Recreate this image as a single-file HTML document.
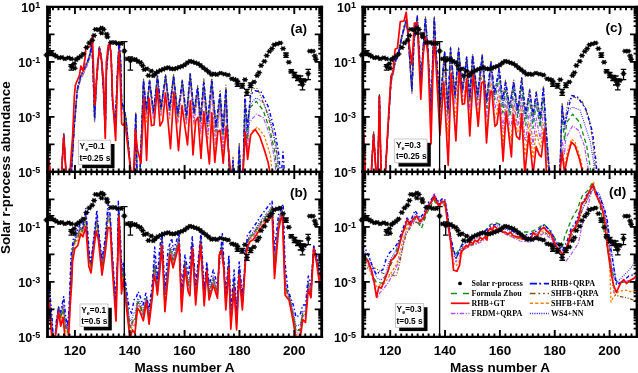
<!DOCTYPE html><html><head><meta charset="utf-8"><style>html,body{margin:0;padding:0;background:#fff;overflow:hidden}svg{display:block}</style></head><body><svg width="638" height="373" viewBox="0 0 638 373">
<style>.tl{font:bold 12.5px "Liberation Sans",Arial,sans-serif}.sup{font-size:9px}.lg{font:bold 8px "Liberation Serif","Times New Roman",serif}.bx{font:bold 8.3px "Liberation Sans",Arial,sans-serif}.pl{font:bold 13px "Liberation Sans",Arial,sans-serif}</style>
<rect width="638" height="373" fill="#fff"/>
<defs><clipPath id="ca"><rect x="47.5" y="6.9" width="274.2" height="165"/></clipPath><clipPath id="cb"><rect x="47.5" y="171.9" width="274.2" height="165"/></clipPath><clipPath id="cc"><rect x="362.8" y="6.9" width="274.2" height="165"/></clipPath><clipPath id="cd"><rect x="362.8" y="171.9" width="274.2" height="165"/></clipPath></defs>
<g clip-path="url(#ca)"><path d="M47.5 152.3L50.5 173.9L50.6 174.0L61.5 174.0L63.8 136.3L66.1 174.0L69.8 174.0L71.3 170.0L72.7 149.9L74.3 123.7L74.4 122.2L75.4 110.6L77.3 91.5L79.5 83.5L80.6 78.6L80.9 77.7L83.0 75.2L84.0 72.3L85.2 68.6L86.0 65.1L88.6 60.4L90.0 55.9L91.0 51.9L92.0 44.8L92.4 53.5L93.2 76.0L93.6 88.4L94.6 121.0L96.2 90.2L96.5 84.3L97.5 71.3L99.4 49.5L101.5 62.6L103.5 92.1L105.3 138.1L106.3 81.1L106.5 72.3L108.2 52.3L108.5 49.2L109.5 46.0L109.8 45.5L111.0 57.1L111.2 59.9L112.5 103.2L115.3 133.6L115.6 128.2L117.5 76.2L119.1 45.8L120.3 64.6L120.6 69.7L121.7 110.2L123.0 113.6L124.3 116.6L125.0 119.4L126.0 125.0L126.4 128.9L131.0 173.8L131.2 174.0L133.5 174.0L134.4 171.8L135.4 129.4L135.7 117.7L137.0 171.1L137.5 171.6L140.0 172.5L141.0 149.5L143.5 85.5L144.0 89.9L146.4 121.8L146.6 120.2L149.0 89.5L149.5 85.0L151.5 103.4L153.5 119.6L154.0 115.1L157.3 81.5L157.5 80.0L160.0 108.1L160.9 116.8L162.7 103.5L165.5 80.4L165.6 79.8L169.6 118.3L170.5 111.6L173.6 79.9L173.8 81.5L177.7 123.9L178.5 118.8L182.0 88.0L182.3 85.9L186.4 125.3L187.5 113.7L190.2 79.3L190.4 81.1L193.0 114.9L194.0 124.5L195.7 109.5L197.7 94.1L198.0 98.0L200.5 134.6L201.0 129.0L203.8 89.2L207.5 141.7L209.4 121.9L211.8 89.5L214.8 135.0L216.0 150.0L217.8 128.8L220.1 103.9L223.0 154.7L223.2 151.3L225.9 99.7L226.2 105.1L229.5 172.7L230.8 174.0L232.0 174.0L233.0 168.9L234.0 174.0L238.0 174.0L239.2 156.4L240.5 174.0L243.0 174.0L243.0 174.0L245.0 125.0L247.5 155.0L251.7 131.6L257.5 127.0L264.5 136.3L270.3 155.0L272.5 174.0L322.0 174.0" stroke="#ff8000" stroke-width="1.3" stroke-dasharray="2.5 1.8" fill="none" stroke-linejoin="round"/><path d="M47.5 151.5L50.5 174.0L50.6 174.0L61.5 174.0L63.8 135.5L66.1 174.0L69.8 174.0L71.3 174.0L72.7 152.9L74.3 128.8L74.4 127.5L75.4 115.5L77.3 92.8L79.5 84.1L80.6 79.8L80.9 79.1L83.0 74.8L84.0 72.8L85.2 70.0L86.0 68.2L88.6 62.4L90.0 56.7L91.0 52.8L92.0 45.5L92.4 56.6L93.2 78.8L93.6 91.4L94.6 123.0L96.2 89.9L96.5 83.8L97.5 71.6L99.4 48.5L101.5 61.8L103.5 93.8L105.3 136.0L106.3 84.1L106.5 73.8L108.2 52.5L108.5 48.8L109.5 45.5L109.8 44.5L111.0 56.7L111.2 58.8L112.5 103.8L115.3 131.0L115.6 123.2L117.5 73.8L119.1 43.5L120.3 59.7L120.6 63.8L121.7 105.8L123.0 109.8L124.3 113.8L125.0 117.3L126.0 122.3L126.4 126.5L131.0 174.0L131.2 174.0L133.5 174.0L134.4 174.0L135.4 128.6L135.7 115.0L137.0 174.0L137.5 174.0L140.0 174.0L141.0 147.7L143.5 81.9L144.0 87.8L146.4 116.0L146.6 113.8L149.0 87.4L149.5 81.9L151.5 99.6L153.5 117.1L154.0 112.3L157.3 79.9L157.5 78.1L160.0 105.1L160.9 114.3L162.7 100.7L165.5 78.7L165.6 78.0L169.6 115.4L170.5 108.4L173.6 78.5L173.8 80.2L177.7 121.7L178.5 116.7L182.0 86.9L182.3 85.0L186.4 123.7L187.5 112.6L190.2 78.9L190.4 80.6L193.0 114.3L194.0 122.9L195.7 108.1L197.7 93.8L198.0 97.4L200.5 132.4L201.0 127.7L203.8 88.6L207.5 137.9L209.4 120.9L211.8 88.4L214.8 132.2L216.0 144.9L217.8 125.0L220.1 102.8L223.0 149.9L223.2 147.1L225.9 98.8L226.2 104.0L229.5 172.0L230.8 174.0L232.0 174.0L233.0 166.6L234.0 174.0L238.0 174.0L239.2 154.9L240.5 174.0L243.0 174.0L243.0 174.0L245.0 115.0L247.5 150.0L249.3 122.3L256.3 114.1L263.3 117.6L270.3 136.3L275.0 162.0L276.0 174.0L322.0 174.0" stroke="#b050ff" stroke-width="1.2" stroke-dasharray="4 1.5 1 1.5" fill="none" stroke-linejoin="round"/><path d="M47.5 150.3L50.5 174.0L50.6 174.0L61.5 174.0L63.8 134.3L66.1 174.0L69.8 174.0L71.3 174.0L72.7 151.7L74.3 126.2L74.4 124.9L75.4 112.9L77.3 90.2L79.5 81.5L80.6 77.2L80.9 76.5L83.0 72.2L84.0 70.2L85.2 67.4L86.0 65.6L88.6 59.8L90.0 54.1L91.0 50.1L92.0 44.3L92.4 54.9L93.2 76.2L93.6 88.4L94.6 119.0L96.2 87.1L96.5 81.2L97.5 69.5L99.4 47.3L101.5 59.1L103.5 91.2L105.3 132.0L106.3 81.3L106.5 71.2L108.2 49.9L108.5 46.1L109.5 44.0L109.8 43.3L111.0 54.3L111.2 56.1L112.5 101.2L115.3 127.0L115.6 119.4L117.5 71.2L119.1 42.3L120.3 57.4L120.6 61.1L121.7 103.2L123.0 107.2L124.3 111.2L125.0 114.7L126.0 119.8L126.4 124.1L131.0 174.0L131.2 174.0L133.5 174.0L134.4 174.0L135.4 127.7L135.7 113.8L137.0 174.0L137.5 174.0L140.0 174.0L141.0 147.3L143.5 80.7L144.0 86.1L146.4 112.0L146.6 110.0L149.0 85.7L149.5 80.7L151.5 96.8L153.5 113.0L154.0 108.5L157.3 78.4L157.5 76.6L160.0 101.2L160.9 110.0L162.7 97.0L165.5 76.7L165.6 76.0L169.6 110.0L170.5 102.3L173.6 76.0L173.8 78.0L177.7 116.0L178.5 110.0L182.0 83.6L182.3 81.3L186.4 118.0L187.5 105.4L190.2 74.3L190.4 76.4L193.0 104.0L194.0 114.6L195.7 102.3L197.7 87.9L198.0 91.5L200.5 121.7L201.0 115.7L203.8 82.0L207.5 126.8L209.4 106.5L211.8 80.8L214.8 117.4L216.0 132.0L217.8 115.5L220.1 94.4L223.0 136.0L223.2 132.8L225.9 89.7L226.2 96.7L229.5 174.0L230.8 174.0L232.0 174.0L233.0 161.7L234.0 174.0L238.0 174.0L239.2 147.9L240.5 174.0L243.0 174.0L243.0 174.0L245.0 105.0L247.5 140.0L249.3 108.3L256.3 101.3L263.3 110.6L270.3 131.6L275.0 152.6L277.0 174.0L322.0 174.0" stroke="#1a8c1a" stroke-width="1.35" stroke-dasharray="4.5 3" fill="none" stroke-linejoin="round"/><path d="M47.5 150.6L50.5 174.0L61.5 174.0L63.8 134.6L66.1 174.0L71.3 174.0L74.3 126.0L77.3 90.0L80.6 77.0L84.0 70.0L88.6 59.6L91.0 50.0L92.0 44.6L93.2 76.0L94.6 118.5L96.5 81.0L99.4 47.6L101.5 59.0L103.5 91.0L105.3 131.5L106.5 71.0L108.5 46.0L109.8 43.6L111.2 56.0L112.5 101.0L115.3 126.5L117.5 71.0L119.1 42.6L120.6 61.0L121.7 103.0L124.3 111.0L126.0 119.6L131.0 174.0L134.4 174.0L135.7 114.1L137.0 174.0L140.0 174.0L143.5 81.0L146.4 111.5L149.5 81.0L153.5 112.5L157.5 76.9L160.9 109.5L165.6 76.3L169.6 109.5L173.6 76.3L177.7 115.5L182.3 81.6L186.4 117.5L190.2 74.6L194.0 114.0L197.7 88.4L200.5 120.8L203.8 82.7L207.5 125.6L211.8 81.6L216.0 130.5L220.1 95.3L223.0 134.5L225.9 90.6L229.5 174.0L232.0 174.0L233.0 162.6L234.0 174.0L238.0 174.0L239.2 148.8L240.5 174.0L243.0 174.0L243.0 174.0L245.0 100.0L247.5 135.0L250.5 103.6L256.3 97.8L263.3 102.5L270.3 120.0L276.1 145.6L278.5 174.0L322.0 174.0" stroke="#3a3aff" stroke-width="1.2" stroke-dasharray="1 1.2" fill="none" stroke-linejoin="round"/><path d="M47.5 148.8L50.5 174.0L61.5 174.0L63.8 132.8L66.1 174.0L71.3 174.0L74.3 124.4L77.3 88.4L80.6 75.4L84.0 68.4L88.6 58.0L91.0 48.4L92.0 42.8L93.2 74.4L94.6 117.0L96.5 79.4L99.4 45.8L101.5 57.4L103.5 89.4L105.3 130.0L106.5 69.4L108.5 44.4L109.8 41.8L111.2 54.4L112.5 99.4L115.3 125.0L117.5 69.4L119.1 40.8L120.6 59.4L121.7 101.4L124.3 109.4L126.0 118.0L131.0 174.0L134.4 174.0L135.7 112.3L137.0 174.0L140.0 174.0L143.5 79.2L146.4 110.0L149.5 79.2L153.5 111.0L157.5 75.1L160.9 108.0L165.6 74.5L169.6 108.0L173.6 74.5L177.7 114.0L182.3 79.8L186.4 116.0L190.2 72.8L194.0 112.0L197.7 85.5L200.5 118.0L203.8 78.9L207.5 122.0L211.8 76.7L216.0 126.0L220.1 89.9L223.0 130.0L225.9 85.2L229.5 174.0L232.0 174.0L233.0 157.2L234.0 174.0L238.0 174.0L239.2 143.4L240.5 174.0L243.0 174.0L243.0 174.0L244.7 99.0L247.3 125.0L251.7 88.5L257.5 88.5L265.6 108.3L272.6 131.6L277.3 155.0L279.0 174.0L322.0 174.0" stroke="#7b4f1e" stroke-width="1.2" stroke-dasharray="3.5 1.6 1.1 1.6 1.1 1.6" fill="none" stroke-linejoin="round"/><path d="M47.5 150.0L50.5 174.0L61.5 174.0L63.8 134.0L66.1 174.0L71.3 174.0L74.3 125.0L77.3 89.0L80.6 76.0L84.0 69.0L88.6 58.6L91.0 49.0L92.0 44.0L93.2 75.0L94.6 117.0L96.5 80.0L99.4 47.0L101.5 58.0L103.5 90.0L105.3 130.0L106.5 70.0L108.5 45.0L109.8 43.0L111.2 55.0L112.5 100.0L115.3 125.0L117.5 70.0L119.1 42.0L120.6 60.0L121.7 102.0L124.3 110.0L126.0 118.6L131.0 174.0L134.4 174.0L135.7 113.5L137.0 174.0L140.0 174.0L143.5 80.4L146.4 110.0L149.5 80.4L153.5 111.0L157.5 76.3L160.9 108.0L165.6 75.7L169.6 108.0L173.6 75.7L177.7 114.0L182.3 81.0L186.4 116.0L190.2 74.0L194.0 112.0L197.7 87.4L200.5 118.0L203.8 81.4L207.5 122.0L211.8 80.0L216.0 126.0L220.1 93.5L223.0 130.0L225.9 88.8L229.5 174.0L232.0 174.0L233.0 160.8L234.0 174.0L238.0 174.0L239.2 147.0L240.5 174.0L243.0 174.0L243.0 174.0L245.0 96.0L247.5 128.0L250.5 94.3L255.2 90.8L261.0 92.0L268.0 106.0L275.0 131.6L278.5 152.6L280.5 174.0L281.5 174.0L283.0 152.0L284.5 174.0L322.0 174.0" stroke="#0000ff" stroke-width="1.45" stroke-dasharray="3.6 2.4 1.4 2.4" fill="none" stroke-linejoin="round"/><path d="M47.5 151.6L50.6 174.0L61.5 174.0L63.8 135.7L66.1 174.0L69.8 174.0L72.7 135.0L74.4 95.0L75.4 85.0L79.5 75.0L80.9 66.0L83.0 71.0L85.2 57.0L86.0 46.5L90.0 46.5L92.4 36.3L93.6 70.0L94.6 105.1L96.2 85.0L97.5 65.0L99.4 49.4L101.5 60.0L103.5 79.4L105.3 138.4L106.3 62.5L108.2 45.6L109.5 43.8L111.0 53.1L112.5 95.0L115.6 140.4L117.5 80.0L119.1 51.3L120.3 80.0L121.7 123.9L123.0 125.2L125.0 122.5L126.4 135.0L131.2 174.0L133.5 174.0L135.4 129.8L137.5 150.0L141.0 163.2L144.0 98.0L146.6 160.4L149.0 98.0L151.5 125.7L154.0 125.0L157.3 88.0L160.0 126.0L162.7 121.0L165.5 93.0L170.5 148.6L173.8 92.0L178.5 150.7L182.0 105.7L187.5 145.0L190.4 100.8L193.0 155.0L195.7 121.1L198.0 117.3L201.0 158.5L203.8 111.6L209.4 163.9L211.8 112.9L214.8 162.3L217.8 131.8L220.1 130.3L223.2 163.1L226.2 126.5L230.8 174.0L243.0 174.0L245.3 131.8L247.6 159.3L250.6 134.8L255.2 129.5L259.8 136.4L264.4 150.1L268.0 162.0L270.3 174.0L322.0 174.0" stroke="#ff0000" stroke-width="1.7" fill="none" stroke-linejoin="round"/></g><path d="M51.6 50.6V55.6M48.8 50.6h5.6M48.8 55.6h5.6M71.3 64.6V70.2M68.5 64.6h5.6M68.5 70.2h5.6M130.4 57.0V70.2M127.6 57.0h5.6M127.6 70.2h5.6M237.5 81.5V86.3M234.7 81.5h5.6M234.7 86.3h5.6M242.2 83.5V88.1M239.4 83.5h5.6M239.4 88.1h5.6M246.9 89.4V95.4M244.1 89.4h5.6M244.1 95.4h5.6M250.6 82.9V87.7M247.8 82.9h5.6M247.8 87.7h5.6M286.0 53.0V57.4M283.2 53.0h5.6M283.2 57.4h5.6M291.3 69.7V72.9M288.5 69.7h5.6M288.5 72.9h5.6M294.5 72.5V77.5M291.7 72.5h5.6M291.7 77.5h5.6M297.8 75.5V80.5M295.0 75.5h5.6M295.0 80.5h5.6M300.5 76.0V85.0M297.7 76.0h5.6M297.7 85.0h5.6M302.5 78.9V89.9M299.7 78.9h5.6M299.7 89.9h5.6M308.2 69.4V79.7M305.4 69.4h5.6M305.4 79.7h5.6M124.3 41.6V172.0M121.1 41.6h6.4" stroke="#000" stroke-width="1.3" fill="none"/><path d="M49.50 55.00L48.02 54.28L48.00 52.87L46.50 53.56L45.00 52.87L44.98 54.28L43.50 55.00L44.98 55.72L45.00 57.13L46.50 56.44L48.00 57.13L48.02 55.72ZM52.00 52.70L50.52 51.98L50.50 50.57L49.00 51.27L47.50 50.57L47.48 51.98L46.00 52.70L47.48 53.42L47.50 54.83L49.00 54.14L50.50 54.83L50.52 53.42ZM54.60 53.10L53.12 52.38L53.10 50.97L51.60 51.66L50.10 50.97L50.08 52.38L48.60 53.10L50.08 53.82L50.10 55.23L51.60 54.54L53.10 55.23L53.12 53.82ZM57.40 55.00L55.92 54.28L55.90 52.87L54.40 53.56L52.90 52.87L52.88 54.28L51.40 55.00L52.88 55.72L52.90 57.13L54.40 56.44L55.90 57.13L55.92 55.72ZM59.30 56.40L57.82 55.68L57.80 54.27L56.30 54.96L54.80 54.27L54.78 55.68L53.30 56.40L54.78 57.12L54.80 58.53L56.30 57.84L57.80 58.53L57.82 57.12ZM62.10 57.80L60.62 57.08L60.60 55.67L59.10 56.36L57.60 55.67L57.58 57.08L56.10 57.80L57.58 58.52L57.60 59.93L59.10 59.23L60.60 59.93L60.62 58.52ZM64.90 57.40L63.42 56.68L63.40 55.27L61.90 55.96L60.40 55.27L60.38 56.68L58.90 57.40L60.38 58.12L60.40 59.53L61.90 58.84L63.40 59.53L63.42 58.12ZM67.80 58.80L66.32 58.08L66.30 56.67L64.80 57.36L63.30 56.67L63.28 58.08L61.80 58.80L63.28 59.52L63.30 60.93L64.80 60.23L66.30 60.93L66.32 59.52ZM71.50 57.80L70.02 57.08L70.00 55.67L68.50 56.36L67.00 55.67L66.98 57.08L65.50 57.80L66.98 58.52L67.00 59.93L68.50 59.23L70.00 59.93L70.02 58.52ZM74.30 58.80L72.82 58.08L72.80 56.67L71.30 57.36L69.80 56.67L69.78 58.08L68.30 58.80L69.78 59.52L69.80 60.93L71.30 60.23L72.80 60.93L72.82 59.52ZM74.30 66.30L72.82 65.58L72.80 64.17L71.30 64.86L69.80 64.17L69.78 65.58L68.30 66.30L69.78 67.02L69.80 68.43L71.30 67.73L72.80 68.43L72.82 67.02ZM77.10 63.80L75.62 63.08L75.60 61.67L74.10 62.36L72.60 61.67L72.58 63.08L71.10 63.80L72.58 64.52L72.60 65.93L74.10 65.23L75.60 65.93L75.62 64.52ZM77.60 68.20L76.12 67.48L76.10 66.07L74.60 66.77L73.10 66.07L73.08 67.48L71.60 68.20L73.08 68.92L73.10 70.33L74.60 69.64L76.10 70.33L76.12 68.92ZM79.20 59.70L77.72 58.98L77.70 57.57L76.20 58.27L74.70 57.57L74.68 58.98L73.20 59.70L74.68 60.42L74.70 61.83L76.20 61.14L77.70 61.83L77.72 60.42ZM81.40 57.80L79.92 57.08L79.90 55.67L78.40 56.36L76.90 55.67L76.88 57.08L75.40 57.80L76.88 58.52L76.90 59.93L78.40 59.23L79.90 59.93L79.92 58.52ZM83.70 56.40L82.22 55.68L82.20 54.27L80.70 54.96L79.20 54.27L79.18 55.68L77.70 56.40L79.18 57.12L79.20 58.53L80.70 57.84L82.20 58.53L82.22 57.12ZM86.20 54.00L84.72 53.28L84.70 51.87L83.20 52.56L81.70 51.87L81.68 53.28L80.20 54.00L81.68 54.72L81.70 56.13L83.20 55.44L84.70 56.13L84.72 54.72ZM89.50 47.50L88.02 46.78L88.00 45.37L86.50 46.06L85.00 45.37L84.98 46.78L83.50 47.50L84.98 48.22L85.00 49.63L86.50 48.94L88.00 49.63L88.02 48.22ZM92.30 43.00L90.82 42.28L90.80 40.87L89.30 41.56L87.80 40.87L87.78 42.28L86.30 43.00L87.78 43.72L87.80 45.13L89.30 44.44L90.80 45.13L90.82 43.72ZM95.20 40.20L93.72 39.48L93.70 38.07L92.20 38.77L90.70 38.07L90.68 39.48L89.20 40.20L90.68 40.92L90.70 42.33L92.20 41.64L93.70 42.33L93.72 40.92ZM97.10 35.50L95.62 34.78L95.60 33.37L94.10 34.06L92.60 33.37L92.58 34.78L91.10 35.50L92.58 36.22L92.60 37.63L94.10 36.94L95.60 37.63L95.62 36.22ZM98.50 29.40L97.02 28.68L97.00 27.27L95.50 27.96L94.00 27.27L93.98 28.68L92.50 29.40L93.98 30.12L94.00 31.53L95.50 30.83L97.00 31.53L97.02 30.12ZM101.80 29.80L100.32 29.08L100.30 27.67L98.80 28.37L97.30 27.67L97.28 29.08L95.80 29.80L97.28 30.52L97.30 31.93L98.80 31.23L100.30 31.93L100.32 30.52ZM104.60 28.00L103.12 27.28L103.10 25.87L101.60 26.57L100.10 25.87L100.08 27.28L98.60 28.00L100.08 28.72L100.10 30.13L101.60 29.43L103.10 30.13L103.12 28.72ZM106.50 29.40L105.02 28.68L105.00 27.27L103.50 27.96L102.00 27.27L101.98 28.68L100.50 29.40L101.98 30.12L102.00 31.53L103.50 30.83L105.00 31.53L105.02 30.12ZM104.60 33.10L103.12 32.38L103.10 30.97L101.60 31.67L100.10 30.97L100.08 32.38L98.60 33.10L100.08 33.82L100.10 35.23L101.60 34.54L103.10 35.23L103.12 33.82ZM109.70 34.10L108.22 33.38L108.20 31.97L106.70 32.66L105.20 31.97L105.18 33.38L103.70 34.10L105.18 34.82L105.20 36.23L106.70 35.54L108.20 36.23L108.22 34.82ZM110.40 37.00L108.92 36.28L108.90 34.87L107.40 35.56L105.90 34.87L105.88 36.28L104.40 37.00L105.88 37.72L105.90 39.13L107.40 38.44L108.90 39.13L108.92 37.72ZM114.00 42.50L112.52 41.78L112.50 40.37L111.00 41.06L109.50 40.37L109.48 41.78L108.00 42.50L109.48 43.22L109.50 44.63L111.00 43.94L112.50 44.63L112.52 43.22ZM117.70 42.50L116.22 41.78L116.20 40.37L114.70 41.06L113.20 40.37L113.18 41.78L111.70 42.50L113.18 43.22L113.20 44.63L114.70 43.94L116.20 44.63L116.22 43.22ZM120.50 43.50L119.02 42.78L119.00 41.37L117.50 42.06L116.00 41.37L115.98 42.78L114.50 43.50L115.98 44.22L116.00 45.63L117.50 44.94L119.00 45.63L119.02 44.22ZM124.30 43.50L122.82 42.78L122.80 41.37L121.30 42.06L119.80 41.37L119.78 42.78L118.30 43.50L119.78 44.22L119.80 45.63L121.30 44.94L122.80 45.63L122.82 44.22ZM127.30 51.00L125.82 50.28L125.80 48.87L124.30 49.56L122.80 48.87L122.78 50.28L121.30 51.00L122.78 51.72L122.80 53.13L124.30 52.44L125.80 53.13L125.82 51.72ZM130.10 58.90L128.62 58.18L128.60 56.77L127.10 57.46L125.60 56.77L125.58 58.18L124.10 58.90L125.58 59.62L125.60 61.03L127.10 60.34L128.60 61.03L128.62 59.62ZM133.40 60.30L131.92 59.58L131.90 58.17L130.40 58.86L128.90 58.17L128.88 59.58L127.40 60.30L128.88 61.02L128.90 62.43L130.40 61.73L131.90 62.43L131.92 61.02ZM136.00 59.60L134.52 58.88L134.50 57.47L133.00 58.16L131.50 57.47L131.48 58.88L130.00 59.60L131.48 60.32L131.50 61.73L133.00 61.04L134.50 61.73L134.52 60.32ZM138.50 59.50L137.02 58.78L137.00 57.37L135.50 58.06L134.00 57.37L133.98 58.78L132.50 59.50L133.98 60.22L134.00 61.63L135.50 60.94L137.00 61.63L137.02 60.22ZM141.00 61.50L139.52 60.78L139.50 59.37L138.00 60.06L136.50 59.37L136.48 60.78L135.00 61.50L136.48 62.22L136.50 63.63L138.00 62.94L139.50 63.63L139.52 62.22ZM143.50 62.50L142.02 61.78L142.00 60.37L140.50 61.06L139.00 60.37L138.98 61.78L137.50 62.50L138.98 63.22L139.00 64.63L140.50 63.94L142.00 64.63L142.02 63.22ZM145.50 65.50L144.02 64.78L144.00 63.37L142.50 64.06L141.00 63.37L140.98 64.78L139.50 65.50L140.98 66.22L141.00 67.63L142.50 66.94L144.00 67.63L144.02 66.22ZM147.20 69.50L145.72 68.78L145.70 67.37L144.20 68.06L142.70 67.37L142.68 68.78L141.20 69.50L142.68 70.22L142.70 71.63L144.20 70.94L145.70 71.63L145.72 70.22ZM149.80 68.80L148.32 68.08L148.30 66.67L146.80 67.36L145.30 66.67L145.28 68.08L143.80 68.80L145.28 69.52L145.30 70.93L146.80 70.23L148.30 70.93L148.32 69.52ZM151.50 75.50L150.02 74.78L150.00 73.37L148.50 74.06L147.00 73.37L146.98 74.78L145.50 75.50L146.98 76.22L147.00 77.63L148.50 76.94L150.00 77.63L150.02 76.22ZM154.30 71.00L152.82 70.28L152.80 68.87L151.30 69.56L149.80 68.87L149.78 70.28L148.30 71.00L149.78 71.72L149.80 73.13L151.30 72.44L152.80 73.13L152.82 71.72ZM156.30 75.80L154.82 75.08L154.80 73.67L153.30 74.36L151.80 73.67L151.78 75.08L150.30 75.80L151.78 76.52L151.80 77.93L153.30 77.23L154.80 77.93L154.82 76.52ZM158.50 73.50L157.02 72.78L157.00 71.37L155.50 72.06L154.00 71.37L153.98 72.78L152.50 73.50L153.98 74.22L154.00 75.63L155.50 74.94L157.00 75.63L157.02 74.22ZM160.80 71.60L159.32 70.88L159.30 69.47L157.80 70.16L156.30 69.47L156.28 70.88L154.80 71.60L156.28 72.32L156.30 73.73L157.80 73.03L159.30 73.73L159.32 72.32ZM163.50 70.40L162.02 69.68L162.00 68.27L160.50 68.97L159.00 68.27L158.98 69.68L157.50 70.40L158.98 71.12L159.00 72.53L160.50 71.84L162.00 72.53L162.02 71.12ZM166.20 69.30L164.72 68.58L164.70 67.17L163.20 67.86L161.70 67.17L161.68 68.58L160.20 69.30L161.68 70.02L161.70 71.43L163.20 70.73L164.70 71.43L164.72 70.02ZM168.80 68.20L167.32 67.48L167.30 66.07L165.80 66.77L164.30 66.07L164.28 67.48L162.80 68.20L164.28 68.92L164.30 70.33L165.80 69.64L167.30 70.33L167.32 68.92ZM171.40 67.60L169.92 66.88L169.90 65.47L168.40 66.16L166.90 65.47L166.88 66.88L165.40 67.60L166.88 68.32L166.90 69.73L168.40 69.03L169.90 69.73L169.92 68.32ZM174.00 68.80L172.52 68.08L172.50 66.67L171.00 67.36L169.50 66.67L169.48 68.08L168.00 68.80L169.48 69.52L169.50 70.93L171.00 70.23L172.50 70.93L172.52 69.52ZM176.80 69.00L175.32 68.28L175.30 66.87L173.80 67.56L172.30 66.87L172.28 68.28L170.80 69.00L172.28 69.72L172.30 71.13L173.80 70.44L175.30 71.13L175.32 69.72ZM179.50 68.30L178.02 67.58L178.00 66.17L176.50 66.86L175.00 66.17L174.98 67.58L173.50 68.30L174.98 69.02L175.00 70.43L176.50 69.73L178.00 70.43L178.02 69.02ZM182.20 67.20L180.72 66.48L180.70 65.07L179.20 65.77L177.70 65.07L177.68 66.48L176.20 67.20L177.68 67.92L177.70 69.33L179.20 68.64L180.70 69.33L180.72 67.92ZM184.90 66.30L183.42 65.58L183.40 64.17L181.90 64.86L180.40 64.17L180.38 65.58L178.90 66.30L180.38 67.02L180.40 68.43L181.90 67.73L183.40 68.43L183.42 67.02ZM187.60 65.00L186.12 64.28L186.10 62.87L184.60 63.56L183.10 62.87L183.08 64.28L181.60 65.00L183.08 65.72L183.10 67.13L184.60 66.44L186.10 67.13L186.12 65.72ZM190.30 62.80L188.82 62.08L188.80 60.67L187.30 61.36L185.80 60.67L185.78 62.08L184.30 62.80L185.78 63.52L185.80 64.93L187.30 64.23L188.80 64.93L188.82 63.52ZM192.90 61.20L191.42 60.48L191.40 59.07L189.90 59.77L188.40 59.07L188.38 60.48L186.90 61.20L188.38 61.92L188.40 63.33L189.90 62.64L191.40 63.33L191.42 61.92ZM195.50 61.80L194.02 61.08L194.00 59.67L192.50 60.36L191.00 59.67L190.98 61.08L189.50 61.80L190.98 62.52L191.00 63.93L192.50 63.23L194.00 63.93L194.02 62.52ZM198.20 62.80L196.72 62.08L196.70 60.67L195.20 61.36L193.70 60.67L193.68 62.08L192.20 62.80L193.68 63.52L193.70 64.93L195.20 64.23L196.70 64.93L196.72 63.52ZM200.90 63.60L199.42 62.88L199.40 61.47L197.90 62.16L196.40 61.47L196.38 62.88L194.90 63.60L196.38 64.32L196.40 65.73L197.90 65.03L199.40 65.73L199.42 64.32ZM203.60 65.50L202.12 64.78L202.10 63.37L200.60 64.06L199.10 63.37L199.08 64.78L197.60 65.50L199.08 66.22L199.10 67.63L200.60 66.94L202.10 67.63L202.12 66.22ZM206.30 67.80L204.82 67.08L204.80 65.67L203.30 66.36L201.80 65.67L201.78 67.08L200.30 67.80L201.78 68.52L201.80 69.93L203.30 69.23L204.80 69.93L204.82 68.52ZM209.00 69.80L207.52 69.08L207.50 67.67L206.00 68.36L204.50 67.67L204.48 69.08L203.00 69.80L204.48 70.52L204.50 71.93L206.00 71.23L207.50 71.93L207.52 70.52ZM211.70 72.00L210.22 71.28L210.20 69.87L208.70 70.56L207.20 69.87L207.18 71.28L205.70 72.00L207.18 72.72L207.20 74.13L208.70 73.44L210.20 74.13L210.22 72.72ZM214.40 74.30L212.92 73.58L212.90 72.17L211.40 72.86L209.90 72.17L209.88 73.58L208.40 74.30L209.88 75.02L209.90 76.43L211.40 75.73L212.90 76.43L212.92 75.02ZM217.10 74.00L215.62 73.28L215.60 71.87L214.10 72.56L212.60 71.87L212.58 73.28L211.10 74.00L212.58 74.72L212.60 76.13L214.10 75.44L215.60 76.13L215.62 74.72ZM219.90 74.50L218.42 73.78L218.40 72.37L216.90 73.06L215.40 72.37L215.38 73.78L213.90 74.50L215.38 75.22L215.40 76.63L216.90 75.94L218.40 76.63L218.42 75.22ZM223.60 73.10L222.12 72.38L222.10 70.97L220.60 71.66L219.10 70.97L219.08 72.38L217.60 73.10L219.08 73.82L219.10 75.23L220.60 74.53L222.10 75.23L222.12 73.82ZM227.40 74.10L225.92 73.38L225.90 71.97L224.40 72.66L222.90 71.97L222.88 73.38L221.40 74.10L222.88 74.82L222.90 76.23L224.40 75.53L225.90 76.23L225.92 74.82ZM231.10 75.00L229.62 74.28L229.60 72.87L228.10 73.56L226.60 72.87L226.58 74.28L225.10 75.00L226.58 75.72L226.60 77.13L228.10 76.44L229.60 77.13L229.62 75.72ZM234.90 78.80L233.42 78.08L233.40 76.67L231.90 77.36L230.40 76.67L230.38 78.08L228.90 78.80L230.38 79.52L230.40 80.93L231.90 80.23L233.40 80.93L233.42 79.52ZM237.50 79.50L236.02 78.78L236.00 77.37L234.50 78.06L233.00 77.37L232.98 78.78L231.50 79.50L232.98 80.22L233.00 81.63L234.50 80.94L236.00 81.63L236.02 80.22ZM239.60 80.20L238.12 79.48L238.10 78.07L236.60 78.77L235.10 78.07L235.08 79.48L233.60 80.20L235.08 80.92L235.10 82.33L236.60 81.64L238.10 82.33L238.12 80.92ZM240.50 83.90L239.02 83.18L239.00 81.77L237.50 82.47L236.00 81.77L235.98 83.18L234.50 83.90L235.98 84.62L236.00 86.03L237.50 85.34L239.00 86.03L239.02 84.62ZM245.20 85.80L243.72 85.08L243.70 83.67L242.20 84.36L240.70 83.67L240.68 85.08L239.20 85.80L240.68 86.52L240.70 87.93L242.20 87.23L243.70 87.93L243.72 86.52ZM248.00 79.70L246.52 78.98L246.50 77.57L245.00 78.27L243.50 77.57L243.48 78.98L242.00 79.70L243.48 80.42L243.50 81.83L245.00 81.14L246.50 81.83L246.52 80.42ZM249.90 92.40L248.42 91.68L248.40 90.27L246.90 90.97L245.40 90.27L245.38 91.68L243.90 92.40L245.38 93.12L245.40 94.53L246.90 93.84L248.40 94.53L248.42 93.12ZM253.60 85.30L252.12 84.58L252.10 83.17L250.60 83.86L249.10 83.17L249.08 84.58L247.60 85.30L249.08 86.02L249.10 87.43L250.60 86.73L252.10 87.43L252.12 86.02ZM257.00 82.00L255.52 81.28L255.50 79.87L254.00 80.56L252.50 79.87L252.48 81.28L251.00 82.00L252.48 82.72L252.50 84.13L254.00 83.44L255.50 84.13L255.52 82.72ZM260.20 75.50L258.72 74.78L258.70 73.37L257.20 74.06L255.70 73.37L255.68 74.78L254.20 75.50L255.68 76.22L255.70 77.63L257.20 76.94L258.70 77.63L258.72 76.22ZM262.10 72.60L260.62 71.88L260.60 70.47L259.10 71.16L257.60 70.47L257.58 71.88L256.10 72.60L257.58 73.32L257.60 74.73L259.10 74.03L260.60 74.73L260.62 73.32ZM264.10 65.50L262.62 64.78L262.60 63.37L261.10 64.06L259.60 63.37L259.58 64.78L258.10 65.50L259.58 66.22L259.60 67.63L261.10 66.94L262.60 67.63L262.62 66.22ZM267.40 61.30L265.92 60.58L265.90 59.17L264.40 59.86L262.90 59.17L262.88 60.58L261.40 61.30L262.88 62.02L262.90 63.43L264.40 62.73L265.90 63.43L265.92 62.02ZM269.70 55.60L268.22 54.88L268.20 53.47L266.70 54.16L265.20 53.47L265.18 54.88L263.70 55.60L265.18 56.32L265.20 57.73L266.70 57.04L268.20 57.73L268.22 56.32ZM272.50 51.40L271.02 50.68L271.00 49.27L269.50 49.96L268.00 49.27L267.98 50.68L266.50 51.40L267.98 52.12L268.00 53.53L269.50 52.84L271.00 53.53L271.02 52.12ZM274.90 48.60L273.42 47.88L273.40 46.47L271.90 47.16L270.40 46.47L270.38 47.88L268.90 48.60L270.38 49.32L270.40 50.73L271.90 50.04L273.40 50.73L273.42 49.32ZM277.20 44.80L275.72 44.08L275.70 42.67L274.20 43.36L272.70 42.67L272.68 44.08L271.20 44.80L272.68 45.52L272.70 46.93L274.20 46.23L275.70 46.93L275.72 45.52ZM280.00 43.90L278.52 43.18L278.50 41.77L277.00 42.46L275.50 41.77L275.48 43.18L274.00 43.90L275.48 44.62L275.50 46.03L277.00 45.34L278.50 46.03L278.52 44.62ZM283.30 43.00L281.82 42.28L281.80 40.87L280.30 41.56L278.80 40.87L278.78 42.28L277.30 43.00L278.78 43.72L278.80 45.13L280.30 44.44L281.80 45.13L281.82 43.72ZM286.10 48.60L284.62 47.88L284.60 46.47L283.10 47.16L281.60 46.47L281.58 47.88L280.10 48.60L281.58 49.32L281.60 50.73L283.10 50.04L284.60 50.73L284.62 49.32ZM289.00 55.20L287.52 54.48L287.50 53.07L286.00 53.77L284.50 53.07L284.48 54.48L283.00 55.20L284.48 55.92L284.50 57.33L286.00 56.64L287.50 57.33L287.52 55.92ZM291.80 62.20L290.32 61.48L290.30 60.07L288.80 60.77L287.30 60.07L287.28 61.48L285.80 62.20L287.28 62.92L287.30 64.33L288.80 63.64L290.30 64.33L290.32 62.92ZM294.30 71.30L292.82 70.58L292.80 69.17L291.30 69.86L289.80 69.17L289.78 70.58L288.30 71.30L289.78 72.02L289.80 73.43L291.30 72.73L292.80 73.43L292.82 72.02ZM297.50 75.00L296.02 74.28L296.00 72.87L294.50 73.56L293.00 72.87L292.98 74.28L291.50 75.00L292.98 75.72L293.00 77.13L294.50 76.44L296.00 77.13L296.02 75.72ZM300.80 78.00L299.32 77.28L299.30 75.87L297.80 76.56L296.30 75.87L296.28 77.28L294.80 78.00L296.28 78.72L296.30 80.13L297.80 79.44L299.30 80.13L299.32 78.72ZM303.50 80.50L302.02 79.78L302.00 78.37L300.50 79.06L299.00 78.37L298.98 79.78L297.50 80.50L298.98 81.22L299.00 82.63L300.50 81.94L302.00 82.63L302.02 81.22ZM305.50 84.40L304.02 83.68L304.00 82.27L302.50 82.97L301.00 82.27L300.98 83.68L299.50 84.40L300.98 85.12L301.00 86.53L302.50 85.84L304.00 86.53L304.02 85.12ZM307.60 80.50L306.12 79.78L306.10 78.37L304.60 79.06L303.10 78.37L303.08 79.78L301.60 80.50L303.08 81.22L303.10 82.63L304.60 81.94L306.10 82.63L306.12 81.22ZM311.20 73.60L309.72 72.88L309.70 71.47L308.20 72.16L306.70 71.47L306.68 72.88L305.20 73.60L306.68 74.32L306.70 75.73L308.20 75.03L309.70 75.73L309.72 74.32ZM312.80 51.10L311.32 50.38L311.30 48.97L309.80 49.66L308.30 48.97L308.28 50.38L306.80 51.10L308.28 51.82L308.30 53.23L309.80 52.54L311.30 53.23L311.32 51.82ZM316.00 51.10L314.52 50.38L314.50 48.97L313.00 49.66L311.50 48.97L311.48 50.38L310.00 51.10L311.48 51.82L311.50 53.23L313.00 52.54L314.50 53.23L314.52 51.82ZM317.80 55.90L316.32 55.18L316.30 53.77L314.80 54.46L313.30 53.77L313.28 55.18L311.80 55.90L313.28 56.62L313.30 58.03L314.80 57.34L316.30 58.03L316.32 56.62ZM318.80 59.20L317.32 58.48L317.30 57.07L315.80 57.77L314.30 57.07L314.28 58.48L312.80 59.20L314.28 59.92L314.30 61.33L315.80 60.64L317.30 61.33L317.32 59.92Z" fill="#000" stroke="#000" stroke-width="0.5" stroke-linejoin="round"/>
<g clip-path="url(#cb)"><path d="M47.5 300.8L49.0 297.0L49.5 302.2L51.0 319.9L51.9 331.2L52.2 332.3L53.2 338.0L55.0 338.0L56.3 326.7L57.1 321.3L58.5 309.2L60.5 320.0L60.7 320.7L63.0 311.2L63.7 315.0L65.2 329.9L65.5 330.8L67.4 334.2L68.5 330.8L69.0 322.5L70.3 294.6L71.1 280.0L71.8 271.3L72.5 255.9L73.3 251.0L74.8 243.9L77.0 240.7L77.7 239.8L79.9 232.4L80.7 230.4L82.5 232.8L82.9 232.5L85.8 220.1L88.8 259.3L89.5 263.4L91.0 268.6L93.2 249.9L93.5 247.4L96.1 225.7L96.9 225.8L98.4 235.4L98.5 236.5L102.0 269.2L105.0 249.1L108.0 219.9L110.2 222.5L112.4 263.9L115.5 308.7L116.0 310.8L117.5 265.2L118.3 228.1L119.0 214.8L120.5 255.2L121.5 284.3L121.7 284.6L123.3 273.2L126.4 301.4L127.5 310.9L129.2 325.7L130.0 332.0L131.6 328.4L132.5 325.0L134.0 325.7L135.0 327.0L136.6 313.2L137.5 305.1L138.3 305.7L140.0 308.3L140.8 310.5L143.0 316.7L143.3 317.2L145.8 303.3L146.6 299.9L149.1 320.7L152.4 293.6L154.1 271.2L154.7 271.8L155.8 277.5L157.4 291.8L159.5 269.4L159.9 265.5L162.0 242.4L164.9 307.4L168.0 272.4L170.1 251.8L171.6 256.7L173.1 263.8L173.5 262.8L179.0 241.5L181.6 307.4L184.9 265.0L185.0 265.5L188.2 287.9L188.5 288.7L189.9 289.6L192.3 245.8L195.7 301.0L200.6 242.0L201.0 247.2L204.2 302.4L206.8 268.4L209.1 296.8L213.3 281.8L217.5 295.3L219.3 255.2L221.5 248.5L222.3 252.7L223.8 266.8L225.8 306.8L228.9 264.9L230.8 325.2L234.1 284.6L236.6 325.9L239.2 272.1L242.4 306.8L245.9 253.3L247.4 245.5L248.1 242.9L250.3 238.7L253.3 236.9L254.0 235.8L257.0 231.0L261.8 224.1L262.1 223.6L266.2 218.9L269.2 216.5L272.1 209.6L274.5 273.2L278.5 226.8L281.0 215.9L282.4 213.5L283.2 233.2L285.0 286.6L285.1 289.3L287.8 296.4L289.2 298.5L293.3 318.8L296.0 334.7L300.1 334.4L302.8 316.5L305.5 318.8L308.3 286.6L311.0 294.9L313.7 247.3L316.5 260.2L319.2 278.7L322.0 268.2" stroke="#ff8000" stroke-width="1.3" stroke-dasharray="2.5 1.8" fill="none" stroke-linejoin="round"/><path d="M47.5 290.5L49.0 291.9L49.5 296.1L51.0 312.6L51.9 323.8L52.2 326.1L53.2 337.5L55.0 337.5L56.3 323.7L57.1 318.3L58.5 307.4L60.5 315.6L60.7 315.6L63.0 305.5L63.7 306.2L65.2 321.3L65.5 323.1L67.4 329.8L68.5 323.1L69.0 316.2L70.3 285.5L71.1 268.1L71.8 261.2L72.5 250.3L73.3 245.2L74.8 239.6L77.0 235.6L77.7 234.4L79.9 228.3L80.7 227.6L82.5 229.8L82.9 228.6L85.8 214.3L88.8 252.8L89.5 258.9L91.0 264.9L93.2 245.9L93.5 243.3L96.1 221.1L96.9 218.1L98.4 231.6L98.5 232.8L102.0 263.9L105.0 244.3L108.0 212.2L110.2 218.4L112.4 259.2L115.5 304.1L116.0 300.9L117.5 262.1L118.3 215.6L119.0 213.3L120.5 247.7L121.5 275.1L121.7 277.4L123.3 268.0L126.4 297.2L127.5 306.6L129.2 321.4L130.0 327.2L131.6 325.6L132.5 322.4L134.0 323.0L135.0 324.8L136.6 311.6L137.5 303.9L138.3 304.3L140.0 307.0L140.8 309.2L143.0 315.5L143.3 315.9L145.8 302.2L146.6 299.2L149.1 319.4L152.4 292.4L154.1 269.8L154.7 269.8L155.8 276.0L157.4 290.5L159.5 267.7L159.9 263.9L162.0 241.2L164.9 305.8L168.0 270.5L170.1 250.7L171.6 255.1L173.1 262.2L173.5 261.5L179.0 240.5L181.6 305.8L184.9 263.9L185.0 264.3L188.2 286.4L188.5 287.4L189.9 287.3L192.3 244.7L195.7 299.5L200.6 241.1L201.0 245.8L204.2 301.1L206.8 267.5L209.1 295.5L213.3 280.5L217.5 294.1L219.3 255.3L221.5 247.6L222.3 251.0L223.8 265.9L225.8 305.5L228.9 263.7L230.8 323.8L234.1 283.1L236.6 324.4L239.2 271.0L242.4 305.5L245.9 252.7L247.4 244.3L248.1 241.9L250.3 237.7L253.3 235.7L254.0 234.7L257.0 229.9L261.8 222.9L262.1 222.5L266.2 217.8L269.2 215.2L272.1 208.6L274.5 271.3L278.5 225.5L281.0 214.9L282.4 212.5L283.2 230.9L285.0 284.6L285.1 287.2L287.8 295.4L289.2 297.7L293.3 317.4L296.0 333.1L300.1 332.7L302.8 315.3L305.5 317.4L308.3 285.4L311.0 293.7L313.7 246.7L316.5 259.3L319.2 277.6L322.0 267.3" stroke="#b050ff" stroke-width="1.2" stroke-dasharray="4 1.5 1 1.5" fill="none" stroke-linejoin="round"/><path d="M47.5 297.0L49.0 295.0L49.5 299.8L51.0 317.1L51.9 328.4L52.2 329.9L53.2 337.5L55.0 337.5L56.3 325.3L57.1 320.0L58.5 308.2L60.5 318.2L60.7 318.6L63.0 309.0L63.7 311.7L65.2 326.7L65.5 327.9L67.4 332.4L68.5 327.9L69.0 320.1L70.3 291.2L71.1 275.7L71.8 267.6L72.5 253.7L73.3 248.7L74.8 242.1L77.0 238.7L77.7 237.7L79.9 230.7L80.7 229.1L82.5 231.5L82.9 230.8L85.8 217.8L88.8 256.8L89.5 261.5L91.0 267.0L93.2 248.3L93.5 245.7L96.1 223.9L96.9 222.9L98.4 233.8L98.5 234.9L102.0 267.1L105.0 247.2L108.0 217.0L110.2 220.8L112.4 262.0L115.5 306.8L116.0 307.2L117.5 263.8L118.3 223.6L119.0 213.9L120.5 252.3L121.5 280.9L121.7 281.9L123.3 270.9L126.4 298.9L127.5 308.0L129.2 322.2L130.0 327.7L131.6 325.2L132.5 321.5L134.0 320.6L135.0 321.3L136.6 309.6L137.5 302.5L138.3 302.5L140.0 305.5L140.8 307.7L143.0 314.0L143.3 314.2L145.8 300.9L146.6 298.7L149.1 317.9L152.4 291.1L154.1 268.0L154.7 266.8L155.8 273.8L157.4 289.0L159.5 265.3L159.9 261.6L162.0 239.7L164.9 303.6L168.0 267.8L170.1 249.6L171.6 252.8L173.1 260.2L173.5 259.8L179.0 239.4L181.6 303.6L184.9 262.8L185.0 263.0L188.2 284.6L188.5 285.6L189.9 283.8L192.3 243.6L195.7 297.5L200.6 240.4L201.0 244.0L204.2 299.6L206.8 266.6L209.1 294.0L213.3 279.0L217.5 292.8L219.3 256.4L221.5 246.8L222.3 248.7L223.8 264.9L225.8 304.0L228.9 262.5L230.8 321.9L234.1 281.3L236.6 322.4L239.2 269.7L242.4 304.0L245.9 252.6L247.4 243.0L248.1 240.7L250.3 236.8L253.3 234.5L254.0 233.5L257.0 228.7L261.8 221.7L262.1 221.3L266.2 216.5L269.2 213.8L272.1 207.5L274.5 268.4L278.5 224.0L281.0 214.0L282.4 211.5L283.2 227.4L285.0 281.6L285.1 284.0L287.8 294.5L289.2 297.0L293.3 315.7L296.0 330.9L300.1 330.3L302.8 313.8L305.5 315.7L308.3 284.0L311.0 292.5L313.7 246.4L316.5 258.6L319.2 276.5L322.0 266.4" stroke="#1a8c1a" stroke-width="1.35" stroke-dasharray="4.5 3" fill="none" stroke-linejoin="round"/><path d="M47.5 287.8L49.0 290.9L49.5 294.7L51.0 310.8L51.9 322.1L52.2 324.7L53.2 338.0L55.0 338.0L56.3 323.3L57.1 318.0L58.5 307.4L60.5 314.9L60.7 314.6L63.0 304.3L63.7 304.0L65.2 319.1L65.5 321.2L67.4 329.0L68.5 321.2L69.0 314.8L70.3 283.2L71.1 264.8L71.8 258.5L72.5 249.1L73.3 244.0L74.8 238.9L77.0 234.5L77.7 233.3L79.9 227.6L80.7 227.3L82.5 229.5L82.9 228.0L85.8 213.0L88.8 251.2L89.5 258.0L91.0 264.3L93.2 245.2L93.5 242.6L96.1 220.2L96.9 216.2L98.4 231.0L98.5 232.2L102.0 262.8L105.0 243.4L108.0 210.3L110.2 217.7L112.4 258.3L115.5 303.2L116.0 298.3L117.5 261.7L118.3 212.2L119.0 213.5L120.5 245.9L121.5 272.7L121.7 275.7L123.3 266.4L126.4 294.5L127.5 303.0L129.2 316.3L130.0 320.4L131.6 320.5L132.5 316.4L134.0 313.0L135.0 313.2L136.6 304.9L137.5 299.4L138.3 298.6L140.0 302.1L140.8 304.3L143.0 310.7L143.3 310.4L145.8 298.1L146.6 298.0L149.1 314.4L152.4 288.3L154.1 263.8L154.7 259.7L155.8 269.0L157.4 285.8L159.5 259.8L159.9 256.3L162.0 236.5L164.9 298.7L168.0 261.4L170.1 247.3L171.6 247.6L173.1 255.7L173.5 256.3L179.0 237.1L181.6 298.7L184.9 260.3L185.0 260.1L188.2 280.5L188.5 281.8L189.9 275.6L192.3 241.1L195.7 293.0L200.6 238.9L201.0 239.8L204.2 296.1L206.8 264.9L209.1 290.8L213.3 275.8L217.5 290.0L219.3 259.7L221.5 245.1L222.3 243.3L223.8 263.2L225.8 300.8L228.9 259.8L230.8 317.6L234.1 277.2L236.6 318.0L239.2 266.9L242.4 300.8L245.9 252.8L247.4 240.2L248.1 238.4L250.3 234.8L253.3 232.0L254.0 230.9L257.0 226.2L261.8 219.1L262.1 218.7L266.2 213.7L269.2 210.6L272.1 205.2L274.5 261.8L278.5 220.8L281.0 212.3L282.4 209.5L283.2 219.1L285.0 274.6L285.1 276.4L287.8 292.7L289.2 295.7L293.3 311.8L296.0 325.9L300.1 324.8L302.8 310.6L305.5 311.8L308.3 281.1L311.0 289.8L313.7 246.2L316.5 257.3L319.2 274.1L322.0 264.8" stroke="#3a3aff" stroke-width="1.2" stroke-dasharray="1 1.2" fill="none" stroke-linejoin="round"/><path d="M47.5 294.4L49.0 293.2L49.5 297.9L51.0 315.0L51.9 326.3L52.2 328.0L53.2 336.5L55.0 336.5L56.3 323.9L57.1 318.5L58.5 307.0L60.5 316.6L60.7 316.9L63.0 307.1L63.7 309.4L65.2 324.3L65.5 325.7L67.4 330.7L68.5 325.7L69.0 318.1L70.3 288.8L71.1 272.8L71.8 265.0L72.5 251.8L73.3 246.9L74.8 240.5L77.0 236.9L77.7 235.8L79.9 229.1L80.7 227.8L82.5 230.0L82.9 229.3L85.8 215.9L88.8 254.8L89.5 259.9L91.0 265.5L93.2 246.7L93.5 244.1L96.1 222.2L96.9 220.7L98.4 232.3L98.5 233.4L102.0 265.3L105.0 245.5L108.0 214.8L110.2 219.2L112.4 260.3L115.5 305.1L116.0 304.6L117.5 262.4L118.3 220.6L119.0 212.8L120.5 250.2L121.5 278.4L121.7 279.8L123.3 269.1L126.4 297.3L127.5 306.5L129.2 320.7L130.0 326.1L131.6 323.9L132.5 320.3L134.0 319.4L135.0 320.3L136.6 308.6L137.5 301.5L138.3 301.5L140.0 304.5L140.8 306.7L143.0 313.0L143.3 313.2L145.8 299.9L146.6 297.7L149.1 316.9L152.4 290.1L154.1 267.0L154.7 265.8L155.8 272.8L157.4 288.0L159.5 264.3L159.9 260.6L162.0 238.7L164.9 302.6L168.0 266.8L170.1 248.6L171.6 251.8L173.1 259.2L173.5 258.8L179.0 238.4L181.6 302.6L184.9 261.8L185.0 262.0L188.2 283.6L188.5 284.6L189.9 282.8L192.3 242.6L195.7 296.5L200.6 239.4L201.0 243.0L204.2 298.6L206.8 265.6L209.1 293.0L213.3 278.0L217.5 291.8L219.3 255.4L221.5 245.8L222.3 247.7L223.8 263.9L225.8 303.0L228.9 261.5L230.8 320.9L234.1 280.3L236.6 321.4L239.2 268.7L242.4 303.0L245.9 251.6L247.4 242.0L248.1 239.7L250.3 235.8L253.3 233.5L254.0 232.5L257.0 227.7L261.8 220.7L262.1 220.3L266.2 215.5L269.2 212.8L272.1 206.5L274.5 267.4L278.5 223.0L281.0 213.0L282.4 210.5L283.2 226.4L285.0 280.6L285.1 283.0L287.8 293.5L289.2 296.0L293.3 314.7L296.0 329.9L300.1 329.3L302.8 312.8L305.5 314.7L308.3 283.0L311.0 291.5L313.7 245.4L316.5 257.6L319.2 275.5L322.0 265.4" stroke="#7b4f1e" stroke-width="1.2" stroke-dasharray="3.5 1.6 1.1 1.6 1.1 1.6" fill="none" stroke-linejoin="round"/><path d="M47.5 279.0L49.5 290.0L51.0 305.0L52.2 320.0L53.2 339.0L55.0 339.0L56.3 321.8L58.5 307.1L60.5 312.0L63.7 296.7L65.5 315.0L67.4 326.2L69.0 310.0L71.1 254.5L73.3 239.7L77.0 230.9L79.9 225.0L82.5 228.0L85.8 208.6L89.5 255.0L91.0 262.0L93.5 240.0L96.9 210.0L98.5 230.0L102.0 258.9L105.0 240.0L108.0 204.2L110.2 215.0L112.4 255.0L115.5 300.0L117.5 260.0L118.3 201.2L120.5 240.0L121.7 270.0L123.3 262.0L126.4 289.4L129.2 308.3L131.6 313.3L134.0 300.0L136.6 296.6L138.3 291.6L140.8 298.3L143.0 305.0L145.8 293.3L149.1 308.3L152.4 283.3L154.7 247.1L157.4 280.0L159.5 250.0L162.0 230.9L164.9 290.0L168.0 250.0L171.6 238.3L173.5 250.0L179.0 233.1L181.6 290.0L185.0 255.0L188.5 275.0L192.3 236.8L195.7 285.0L201.0 232.4L204.2 290.0L206.8 262.0L209.1 285.0L213.3 270.0L217.5 285.0L222.3 233.8L225.8 295.0L228.9 255.0L230.8 310.0L234.1 270.0L236.6 310.0L239.2 262.0L242.4 295.0L247.4 235.3L254.0 226.5L261.8 214.5L272.1 201.2L274.5 250.0L278.5 215.0L283.2 204.2L285.0 262.0L287.8 289.6L293.3 305.0L296.0 317.0L300.1 315.0L302.8 305.0L305.5 305.0L308.3 276.0L311.0 285.0L313.7 246.0L316.5 255.0L319.2 270.0L322.0 262.0" stroke="#0000ff" stroke-width="1.45" stroke-dasharray="3.6 2.4 1.4 2.4" fill="none" stroke-linejoin="round"/><path d="M47.5 311.5L49.0 302.6L51.9 339.0L55.0 339.0L57.1 324.8L58.5 311.5L60.7 326.2L63.0 317.4L65.2 339.0L68.5 339.0L70.3 304.1L71.8 282.0L72.5 261.9L74.8 248.6L77.7 245.6L80.7 233.8L82.9 236.8L85.8 226.5L88.8 266.3L91.0 272.9L93.2 254.5L96.1 230.9L98.4 239.7L102.0 275.1L105.0 254.5L108.0 228.0L110.2 227.2L112.4 269.2L116.0 321.1L119.0 216.7L121.5 294.0L123.3 279.0L127.5 316.6L130.0 339.0L132.5 329.9L135.0 333.2L137.5 308.3L140.0 311.6L143.3 320.8L146.6 301.6L149.1 324.1L152.4 296.6L154.1 275.0L155.8 281.7L157.4 295.0L159.9 270.0L162.0 245.6L164.9 311.6L170.1 254.5L173.1 267.8L179.0 244.2L181.6 311.6L184.9 267.8L188.2 291.6L189.9 295.8L192.3 248.6L195.7 305.0L200.6 244.2L204.2 305.8L206.8 270.7L209.1 300.0L213.3 285.0L217.5 298.3L219.3 254.5L221.5 250.8L223.8 269.2L225.8 310.0L228.9 267.8L230.8 329.1L234.1 288.3L236.6 329.9L239.2 275.1L242.4 310.0L245.9 254.5L248.1 245.6L250.3 241.2L253.3 239.7L257.0 233.8L262.1 226.5L266.2 221.9L269.2 219.7L272.1 212.3L274.5 278.5L278.5 230.0L281.0 218.2L282.4 216.0L285.1 295.1L289.2 300.6L293.3 322.4L296.0 339.0L300.1 339.0L302.8 319.7L305.5 322.4L308.3 289.6L311.0 297.8L313.7 248.7L316.5 262.3L319.2 281.4L322.0 270.5" stroke="#ff0000" stroke-width="1.7" fill="none" stroke-linejoin="round"/></g><path d="M51.6 215.6V220.6M48.8 215.6h5.6M48.8 220.6h5.6M71.3 229.6V235.2M68.5 229.6h5.6M68.5 235.2h5.6M130.4 222.0V235.2M127.6 222.0h5.6M127.6 235.2h5.6M237.5 246.5V251.3M234.7 246.5h5.6M234.7 251.3h5.6M242.2 248.5V253.1M239.4 248.5h5.6M239.4 253.1h5.6M246.9 254.4V260.4M244.1 254.4h5.6M244.1 260.4h5.6M250.6 247.9V252.7M247.8 247.9h5.6M247.8 252.7h5.6M286.0 218.0V222.4M283.2 218.0h5.6M283.2 222.4h5.6M291.3 234.7V237.9M288.5 234.7h5.6M288.5 237.9h5.6M294.5 237.5V242.5M291.7 237.5h5.6M291.7 242.5h5.6M297.8 240.5V245.5M295.0 240.5h5.6M295.0 245.5h5.6M300.5 241.0V250.0M297.7 241.0h5.6M297.7 250.0h5.6M302.5 243.9V254.9M299.7 243.9h5.6M299.7 254.9h5.6M308.2 234.4V244.7M305.4 234.4h5.6M305.4 244.7h5.6M124.3 206.6V337.0M121.1 206.6h6.4" stroke="#000" stroke-width="1.3" fill="none"/><path d="M49.50 220.00L48.02 219.28L48.00 217.87L46.50 218.56L45.00 217.87L44.98 219.28L43.50 220.00L44.98 220.72L45.00 222.13L46.50 221.44L48.00 222.13L48.02 220.72ZM52.00 217.70L50.52 216.98L50.50 215.57L49.00 216.26L47.50 215.57L47.48 216.98L46.00 217.70L47.48 218.42L47.50 219.83L49.00 219.13L50.50 219.83L50.52 218.42ZM54.60 218.10L53.12 217.38L53.10 215.97L51.60 216.66L50.10 215.97L50.08 217.38L48.60 218.10L50.08 218.82L50.10 220.23L51.60 219.53L53.10 220.23L53.12 218.82ZM57.40 220.00L55.92 219.28L55.90 217.87L54.40 218.56L52.90 217.87L52.88 219.28L51.40 220.00L52.88 220.72L52.90 222.13L54.40 221.44L55.90 222.13L55.92 220.72ZM59.30 221.40L57.82 220.68L57.80 219.27L56.30 219.97L54.80 219.27L54.78 220.68L53.30 221.40L54.78 222.12L54.80 223.53L56.30 222.84L57.80 223.53L57.82 222.12ZM62.10 222.80L60.62 222.08L60.60 220.67L59.10 221.37L57.60 220.67L57.58 222.08L56.10 222.80L57.58 223.52L57.60 224.93L59.10 224.24L60.60 224.93L60.62 223.52ZM64.90 222.40L63.42 221.68L63.40 220.27L61.90 220.97L60.40 220.27L60.38 221.68L58.90 222.40L60.38 223.12L60.40 224.53L61.90 223.84L63.40 224.53L63.42 223.12ZM67.80 223.80L66.32 223.08L66.30 221.67L64.80 222.37L63.30 221.67L63.28 223.08L61.80 223.80L63.28 224.52L63.30 225.93L64.80 225.24L66.30 225.93L66.32 224.52ZM71.50 222.80L70.02 222.08L70.00 220.67L68.50 221.37L67.00 220.67L66.98 222.08L65.50 222.80L66.98 223.52L67.00 224.93L68.50 224.24L70.00 224.93L70.02 223.52ZM74.30 223.80L72.82 223.08L72.80 221.67L71.30 222.37L69.80 221.67L69.78 223.08L68.30 223.80L69.78 224.52L69.80 225.93L71.30 225.24L72.80 225.93L72.82 224.52ZM74.30 231.30L72.82 230.58L72.80 229.17L71.30 229.87L69.80 229.17L69.78 230.58L68.30 231.30L69.78 232.02L69.80 233.43L71.30 232.74L72.80 233.43L72.82 232.02ZM77.10 228.80L75.62 228.08L75.60 226.67L74.10 227.37L72.60 226.67L72.58 228.08L71.10 228.80L72.58 229.52L72.60 230.93L74.10 230.24L75.60 230.93L75.62 229.52ZM77.60 233.20L76.12 232.48L76.10 231.07L74.60 231.76L73.10 231.07L73.08 232.48L71.60 233.20L73.08 233.92L73.10 235.33L74.60 234.63L76.10 235.33L76.12 233.92ZM79.20 224.70L77.72 223.98L77.70 222.57L76.20 223.26L74.70 222.57L74.68 223.98L73.20 224.70L74.68 225.42L74.70 226.83L76.20 226.13L77.70 226.83L77.72 225.42ZM81.40 222.80L79.92 222.08L79.90 220.67L78.40 221.37L76.90 220.67L76.88 222.08L75.40 222.80L76.88 223.52L76.90 224.93L78.40 224.24L79.90 224.93L79.92 223.52ZM83.70 221.40L82.22 220.68L82.20 219.27L80.70 219.97L79.20 219.27L79.18 220.68L77.70 221.40L79.18 222.12L79.20 223.53L80.70 222.84L82.20 223.53L82.22 222.12ZM86.20 219.00L84.72 218.28L84.70 216.87L83.20 217.56L81.70 216.87L81.68 218.28L80.20 219.00L81.68 219.72L81.70 221.13L83.20 220.44L84.70 221.13L84.72 219.72ZM89.50 212.50L88.02 211.78L88.00 210.37L86.50 211.06L85.00 210.37L84.98 211.78L83.50 212.50L84.98 213.22L85.00 214.63L86.50 213.94L88.00 214.63L88.02 213.22ZM92.30 208.00L90.82 207.28L90.80 205.87L89.30 206.56L87.80 205.87L87.78 207.28L86.30 208.00L87.78 208.72L87.80 210.13L89.30 209.44L90.80 210.13L90.82 208.72ZM95.20 205.20L93.72 204.48L93.70 203.07L92.20 203.76L90.70 203.07L90.68 204.48L89.20 205.20L90.68 205.92L90.70 207.33L92.20 206.63L93.70 207.33L93.72 205.92ZM97.10 200.50L95.62 199.78L95.60 198.37L94.10 199.06L92.60 198.37L92.58 199.78L91.10 200.50L92.58 201.22L92.60 202.63L94.10 201.94L95.60 202.63L95.62 201.22ZM98.50 194.40L97.02 193.68L97.00 192.27L95.50 192.97L94.00 192.27L93.98 193.68L92.50 194.40L93.98 195.12L94.00 196.53L95.50 195.84L97.00 196.53L97.02 195.12ZM101.80 194.80L100.32 194.08L100.30 192.67L98.80 193.37L97.30 192.67L97.28 194.08L95.80 194.80L97.28 195.52L97.30 196.93L98.80 196.24L100.30 196.93L100.32 195.52ZM104.60 193.00L103.12 192.28L103.10 190.87L101.60 191.56L100.10 190.87L100.08 192.28L98.60 193.00L100.08 193.72L100.10 195.13L101.60 194.44L103.10 195.13L103.12 193.72ZM106.50 194.40L105.02 193.68L105.00 192.27L103.50 192.97L102.00 192.27L101.98 193.68L100.50 194.40L101.98 195.12L102.00 196.53L103.50 195.84L105.00 196.53L105.02 195.12ZM104.60 198.10L103.12 197.38L103.10 195.97L101.60 196.66L100.10 195.97L100.08 197.38L98.60 198.10L100.08 198.82L100.10 200.23L101.60 199.53L103.10 200.23L103.12 198.82ZM109.70 199.10L108.22 198.38L108.20 196.97L106.70 197.66L105.20 196.97L105.18 198.38L103.70 199.10L105.18 199.82L105.20 201.23L106.70 200.53L108.20 201.23L108.22 199.82ZM110.40 202.00L108.92 201.28L108.90 199.87L107.40 200.56L105.90 199.87L105.88 201.28L104.40 202.00L105.88 202.72L105.90 204.13L107.40 203.44L108.90 204.13L108.92 202.72ZM114.00 207.50L112.52 206.78L112.50 205.37L111.00 206.06L109.50 205.37L109.48 206.78L108.00 207.50L109.48 208.22L109.50 209.63L111.00 208.94L112.50 209.63L112.52 208.22ZM117.70 207.50L116.22 206.78L116.20 205.37L114.70 206.06L113.20 205.37L113.18 206.78L111.70 207.50L113.18 208.22L113.20 209.63L114.70 208.94L116.20 209.63L116.22 208.22ZM120.50 208.50L119.02 207.78L119.00 206.37L117.50 207.06L116.00 206.37L115.98 207.78L114.50 208.50L115.98 209.22L116.00 210.63L117.50 209.94L119.00 210.63L119.02 209.22ZM124.30 208.50L122.82 207.78L122.80 206.37L121.30 207.06L119.80 206.37L119.78 207.78L118.30 208.50L119.78 209.22L119.80 210.63L121.30 209.94L122.80 210.63L122.82 209.22ZM127.30 216.00L125.82 215.28L125.80 213.87L124.30 214.56L122.80 213.87L122.78 215.28L121.30 216.00L122.78 216.72L122.80 218.13L124.30 217.44L125.80 218.13L125.82 216.72ZM130.10 223.90L128.62 223.18L128.60 221.77L127.10 222.47L125.60 221.77L125.58 223.18L124.10 223.90L125.58 224.62L125.60 226.03L127.10 225.34L128.60 226.03L128.62 224.62ZM133.40 225.30L131.92 224.58L131.90 223.17L130.40 223.87L128.90 223.17L128.88 224.58L127.40 225.30L128.88 226.02L128.90 227.43L130.40 226.74L131.90 227.43L131.92 226.02ZM136.00 224.60L134.52 223.88L134.50 222.47L133.00 223.16L131.50 222.47L131.48 223.88L130.00 224.60L131.48 225.32L131.50 226.73L133.00 226.03L134.50 226.73L134.52 225.32ZM138.50 224.50L137.02 223.78L137.00 222.37L135.50 223.06L134.00 222.37L133.98 223.78L132.50 224.50L133.98 225.22L134.00 226.63L135.50 225.94L137.00 226.63L137.02 225.22ZM141.00 226.50L139.52 225.78L139.50 224.37L138.00 225.06L136.50 224.37L136.48 225.78L135.00 226.50L136.48 227.22L136.50 228.63L138.00 227.94L139.50 228.63L139.52 227.22ZM143.50 227.50L142.02 226.78L142.00 225.37L140.50 226.06L139.00 225.37L138.98 226.78L137.50 227.50L138.98 228.22L139.00 229.63L140.50 228.94L142.00 229.63L142.02 228.22ZM145.50 230.50L144.02 229.78L144.00 228.37L142.50 229.06L141.00 228.37L140.98 229.78L139.50 230.50L140.98 231.22L141.00 232.63L142.50 231.94L144.00 232.63L144.02 231.22ZM147.20 234.50L145.72 233.78L145.70 232.37L144.20 233.06L142.70 232.37L142.68 233.78L141.20 234.50L142.68 235.22L142.70 236.63L144.20 235.94L145.70 236.63L145.72 235.22ZM149.80 233.80L148.32 233.08L148.30 231.67L146.80 232.37L145.30 231.67L145.28 233.08L143.80 233.80L145.28 234.52L145.30 235.93L146.80 235.24L148.30 235.93L148.32 234.52ZM151.50 240.50L150.02 239.78L150.00 238.37L148.50 239.06L147.00 238.37L146.98 239.78L145.50 240.50L146.98 241.22L147.00 242.63L148.50 241.94L150.00 242.63L150.02 241.22ZM154.30 236.00L152.82 235.28L152.80 233.87L151.30 234.56L149.80 233.87L149.78 235.28L148.30 236.00L149.78 236.72L149.80 238.13L151.30 237.44L152.80 238.13L152.82 236.72ZM156.30 240.80L154.82 240.08L154.80 238.67L153.30 239.37L151.80 238.67L151.78 240.08L150.30 240.80L151.78 241.52L151.80 242.93L153.30 242.24L154.80 242.93L154.82 241.52ZM158.50 238.50L157.02 237.78L157.00 236.37L155.50 237.06L154.00 236.37L153.98 237.78L152.50 238.50L153.98 239.22L154.00 240.63L155.50 239.94L157.00 240.63L157.02 239.22ZM160.80 236.60L159.32 235.88L159.30 234.47L157.80 235.16L156.30 234.47L156.28 235.88L154.80 236.60L156.28 237.32L156.30 238.73L157.80 238.03L159.30 238.73L159.32 237.32ZM163.50 235.40L162.02 234.68L162.00 233.27L160.50 233.97L159.00 233.27L158.98 234.68L157.50 235.40L158.98 236.12L159.00 237.53L160.50 236.84L162.00 237.53L162.02 236.12ZM166.20 234.30L164.72 233.58L164.70 232.17L163.20 232.87L161.70 232.17L161.68 233.58L160.20 234.30L161.68 235.02L161.70 236.43L163.20 235.74L164.70 236.43L164.72 235.02ZM168.80 233.20L167.32 232.48L167.30 231.07L165.80 231.76L164.30 231.07L164.28 232.48L162.80 233.20L164.28 233.92L164.30 235.33L165.80 234.63L167.30 235.33L167.32 233.92ZM171.40 232.60L169.92 231.88L169.90 230.47L168.40 231.16L166.90 230.47L166.88 231.88L165.40 232.60L166.88 233.32L166.90 234.73L168.40 234.03L169.90 234.73L169.92 233.32ZM174.00 233.80L172.52 233.08L172.50 231.67L171.00 232.37L169.50 231.67L169.48 233.08L168.00 233.80L169.48 234.52L169.50 235.93L171.00 235.24L172.50 235.93L172.52 234.52ZM176.80 234.00L175.32 233.28L175.30 231.87L173.80 232.56L172.30 231.87L172.28 233.28L170.80 234.00L172.28 234.72L172.30 236.13L173.80 235.44L175.30 236.13L175.32 234.72ZM179.50 233.30L178.02 232.58L178.00 231.17L176.50 231.87L175.00 231.17L174.98 232.58L173.50 233.30L174.98 234.02L175.00 235.43L176.50 234.74L178.00 235.43L178.02 234.02ZM182.20 232.20L180.72 231.48L180.70 230.07L179.20 230.76L177.70 230.07L177.68 231.48L176.20 232.20L177.68 232.92L177.70 234.33L179.20 233.63L180.70 234.33L180.72 232.92ZM184.90 231.30L183.42 230.58L183.40 229.17L181.90 229.87L180.40 229.17L180.38 230.58L178.90 231.30L180.38 232.02L180.40 233.43L181.90 232.74L183.40 233.43L183.42 232.02ZM187.60 230.00L186.12 229.28L186.10 227.87L184.60 228.56L183.10 227.87L183.08 229.28L181.60 230.00L183.08 230.72L183.10 232.13L184.60 231.44L186.10 232.13L186.12 230.72ZM190.30 227.80L188.82 227.08L188.80 225.67L187.30 226.37L185.80 225.67L185.78 227.08L184.30 227.80L185.78 228.52L185.80 229.93L187.30 229.24L188.80 229.93L188.82 228.52ZM192.90 226.20L191.42 225.48L191.40 224.07L189.90 224.76L188.40 224.07L188.38 225.48L186.90 226.20L188.38 226.92L188.40 228.33L189.90 227.63L191.40 228.33L191.42 226.92ZM195.50 226.80L194.02 226.08L194.00 224.67L192.50 225.37L191.00 224.67L190.98 226.08L189.50 226.80L190.98 227.52L191.00 228.93L192.50 228.24L194.00 228.93L194.02 227.52ZM198.20 227.80L196.72 227.08L196.70 225.67L195.20 226.37L193.70 225.67L193.68 227.08L192.20 227.80L193.68 228.52L193.70 229.93L195.20 229.24L196.70 229.93L196.72 228.52ZM200.90 228.60L199.42 227.88L199.40 226.47L197.90 227.16L196.40 226.47L196.38 227.88L194.90 228.60L196.38 229.32L196.40 230.73L197.90 230.03L199.40 230.73L199.42 229.32ZM203.60 230.50L202.12 229.78L202.10 228.37L200.60 229.06L199.10 228.37L199.08 229.78L197.60 230.50L199.08 231.22L199.10 232.63L200.60 231.94L202.10 232.63L202.12 231.22ZM206.30 232.80L204.82 232.08L204.80 230.67L203.30 231.37L201.80 230.67L201.78 232.08L200.30 232.80L201.78 233.52L201.80 234.93L203.30 234.24L204.80 234.93L204.82 233.52ZM209.00 234.80L207.52 234.08L207.50 232.67L206.00 233.37L204.50 232.67L204.48 234.08L203.00 234.80L204.48 235.52L204.50 236.93L206.00 236.24L207.50 236.93L207.52 235.52ZM211.70 237.00L210.22 236.28L210.20 234.87L208.70 235.56L207.20 234.87L207.18 236.28L205.70 237.00L207.18 237.72L207.20 239.13L208.70 238.44L210.20 239.13L210.22 237.72ZM214.40 239.30L212.92 238.58L212.90 237.17L211.40 237.87L209.90 237.17L209.88 238.58L208.40 239.30L209.88 240.02L209.90 241.43L211.40 240.74L212.90 241.43L212.92 240.02ZM217.10 239.00L215.62 238.28L215.60 236.87L214.10 237.56L212.60 236.87L212.58 238.28L211.10 239.00L212.58 239.72L212.60 241.13L214.10 240.44L215.60 241.13L215.62 239.72ZM219.90 239.50L218.42 238.78L218.40 237.37L216.90 238.06L215.40 237.37L215.38 238.78L213.90 239.50L215.38 240.22L215.40 241.63L216.90 240.94L218.40 241.63L218.42 240.22ZM223.60 238.10L222.12 237.38L222.10 235.97L220.60 236.66L219.10 235.97L219.08 237.38L217.60 238.10L219.08 238.82L219.10 240.23L220.60 239.53L222.10 240.23L222.12 238.82ZM227.40 239.10L225.92 238.38L225.90 236.97L224.40 237.66L222.90 236.97L222.88 238.38L221.40 239.10L222.88 239.82L222.90 241.23L224.40 240.53L225.90 241.23L225.92 239.82ZM231.10 240.00L229.62 239.28L229.60 237.87L228.10 238.56L226.60 237.87L226.58 239.28L225.10 240.00L226.58 240.72L226.60 242.13L228.10 241.44L229.60 242.13L229.62 240.72ZM234.90 243.80L233.42 243.08L233.40 241.67L231.90 242.37L230.40 241.67L230.38 243.08L228.90 243.80L230.38 244.52L230.40 245.93L231.90 245.24L233.40 245.93L233.42 244.52ZM237.50 244.50L236.02 243.78L236.00 242.37L234.50 243.06L233.00 242.37L232.98 243.78L231.50 244.50L232.98 245.22L233.00 246.63L234.50 245.94L236.00 246.63L236.02 245.22ZM239.60 245.20L238.12 244.48L238.10 243.07L236.60 243.76L235.10 243.07L235.08 244.48L233.60 245.20L235.08 245.92L235.10 247.33L236.60 246.63L238.10 247.33L238.12 245.92ZM240.50 248.90L239.02 248.18L239.00 246.77L237.50 247.47L236.00 246.77L235.98 248.18L234.50 248.90L235.98 249.62L236.00 251.03L237.50 250.34L239.00 251.03L239.02 249.62ZM245.20 250.80L243.72 250.08L243.70 248.67L242.20 249.37L240.70 248.67L240.68 250.08L239.20 250.80L240.68 251.52L240.70 252.93L242.20 252.24L243.70 252.93L243.72 251.52ZM248.00 244.70L246.52 243.98L246.50 242.57L245.00 243.26L243.50 242.57L243.48 243.98L242.00 244.70L243.48 245.42L243.50 246.83L245.00 246.13L246.50 246.83L246.52 245.42ZM249.90 257.40L248.42 256.68L248.40 255.27L246.90 255.96L245.40 255.27L245.38 256.68L243.90 257.40L245.38 258.12L245.40 259.53L246.90 258.83L248.40 259.53L248.42 258.12ZM253.60 250.30L252.12 249.58L252.10 248.17L250.60 248.87L249.10 248.17L249.08 249.58L247.60 250.30L249.08 251.02L249.10 252.43L250.60 251.74L252.10 252.43L252.12 251.02ZM257.00 247.00L255.52 246.28L255.50 244.87L254.00 245.56L252.50 244.87L252.48 246.28L251.00 247.00L252.48 247.72L252.50 249.13L254.00 248.44L255.50 249.13L255.52 247.72ZM260.20 240.50L258.72 239.78L258.70 238.37L257.20 239.06L255.70 238.37L255.68 239.78L254.20 240.50L255.68 241.22L255.70 242.63L257.20 241.94L258.70 242.63L258.72 241.22ZM262.10 237.60L260.62 236.88L260.60 235.47L259.10 236.16L257.60 235.47L257.58 236.88L256.10 237.60L257.58 238.32L257.60 239.73L259.10 239.03L260.60 239.73L260.62 238.32ZM264.10 230.50L262.62 229.78L262.60 228.37L261.10 229.06L259.60 228.37L259.58 229.78L258.10 230.50L259.58 231.22L259.60 232.63L261.10 231.94L262.60 232.63L262.62 231.22ZM267.40 226.30L265.92 225.58L265.90 224.17L264.40 224.87L262.90 224.17L262.88 225.58L261.40 226.30L262.88 227.02L262.90 228.43L264.40 227.74L265.90 228.43L265.92 227.02ZM269.70 220.60L268.22 219.88L268.20 218.47L266.70 219.16L265.20 218.47L265.18 219.88L263.70 220.60L265.18 221.32L265.20 222.73L266.70 222.03L268.20 222.73L268.22 221.32ZM272.50 216.40L271.02 215.68L271.00 214.27L269.50 214.97L268.00 214.27L267.98 215.68L266.50 216.40L267.98 217.12L268.00 218.53L269.50 217.84L271.00 218.53L271.02 217.12ZM274.90 213.60L273.42 212.88L273.40 211.47L271.90 212.16L270.40 211.47L270.38 212.88L268.90 213.60L270.38 214.32L270.40 215.73L271.90 215.03L273.40 215.73L273.42 214.32ZM277.20 209.80L275.72 209.08L275.70 207.67L274.20 208.37L272.70 207.67L272.68 209.08L271.20 209.80L272.68 210.52L272.70 211.93L274.20 211.24L275.70 211.93L275.72 210.52ZM280.00 208.90L278.52 208.18L278.50 206.77L277.00 207.47L275.50 206.77L275.48 208.18L274.00 208.90L275.48 209.62L275.50 211.03L277.00 210.34L278.50 211.03L278.52 209.62ZM283.30 208.00L281.82 207.28L281.80 205.87L280.30 206.56L278.80 205.87L278.78 207.28L277.30 208.00L278.78 208.72L278.80 210.13L280.30 209.44L281.80 210.13L281.82 208.72ZM286.10 213.60L284.62 212.88L284.60 211.47L283.10 212.16L281.60 211.47L281.58 212.88L280.10 213.60L281.58 214.32L281.60 215.73L283.10 215.03L284.60 215.73L284.62 214.32ZM289.00 220.20L287.52 219.48L287.50 218.07L286.00 218.76L284.50 218.07L284.48 219.48L283.00 220.20L284.48 220.92L284.50 222.33L286.00 221.63L287.50 222.33L287.52 220.92ZM291.80 227.20L290.32 226.48L290.30 225.07L288.80 225.76L287.30 225.07L287.28 226.48L285.80 227.20L287.28 227.92L287.30 229.33L288.80 228.63L290.30 229.33L290.32 227.92ZM294.30 236.30L292.82 235.58L292.80 234.17L291.30 234.87L289.80 234.17L289.78 235.58L288.30 236.30L289.78 237.02L289.80 238.43L291.30 237.74L292.80 238.43L292.82 237.02ZM297.50 240.00L296.02 239.28L296.00 237.87L294.50 238.56L293.00 237.87L292.98 239.28L291.50 240.00L292.98 240.72L293.00 242.13L294.50 241.44L296.00 242.13L296.02 240.72ZM300.80 243.00L299.32 242.28L299.30 240.87L297.80 241.56L296.30 240.87L296.28 242.28L294.80 243.00L296.28 243.72L296.30 245.13L297.80 244.44L299.30 245.13L299.32 243.72ZM303.50 245.50L302.02 244.78L302.00 243.37L300.50 244.06L299.00 243.37L298.98 244.78L297.50 245.50L298.98 246.22L299.00 247.63L300.50 246.94L302.00 247.63L302.02 246.22ZM305.50 249.40L304.02 248.68L304.00 247.27L302.50 247.97L301.00 247.27L300.98 248.68L299.50 249.40L300.98 250.12L301.00 251.53L302.50 250.84L304.00 251.53L304.02 250.12ZM307.60 245.50L306.12 244.78L306.10 243.37L304.60 244.06L303.10 243.37L303.08 244.78L301.60 245.50L303.08 246.22L303.10 247.63L304.60 246.94L306.10 247.63L306.12 246.22ZM311.20 238.60L309.72 237.88L309.70 236.47L308.20 237.16L306.70 236.47L306.68 237.88L305.20 238.60L306.68 239.32L306.70 240.73L308.20 240.03L309.70 240.73L309.72 239.32ZM312.80 216.10L311.32 215.38L311.30 213.97L309.80 214.66L308.30 213.97L308.28 215.38L306.80 216.10L308.28 216.82L308.30 218.23L309.80 217.53L311.30 218.23L311.32 216.82ZM316.00 216.10L314.52 215.38L314.50 213.97L313.00 214.66L311.50 213.97L311.48 215.38L310.00 216.10L311.48 216.82L311.50 218.23L313.00 217.53L314.50 218.23L314.52 216.82ZM317.80 220.90L316.32 220.18L316.30 218.77L314.80 219.47L313.30 218.77L313.28 220.18L311.80 220.90L313.28 221.62L313.30 223.03L314.80 222.34L316.30 223.03L316.32 221.62ZM318.80 224.20L317.32 223.48L317.30 222.07L315.80 222.76L314.30 222.07L314.28 223.48L312.80 224.20L314.28 224.92L314.30 226.33L315.80 225.63L317.30 226.33L317.32 224.92Z" fill="#000" stroke="#000" stroke-width="0.5" stroke-linejoin="round"/>
<g clip-path="url(#cc)"><path d="M362.8 119.4L365.3 174.0L371.2 174.0L373.6 135.3L376.1 174.0L377.8 174.0L379.4 97.3L381.1 174.0L385.3 174.0L388.6 120.8L391.0 82.4L393.4 73.4L393.7 69.8L395.0 62.3L395.2 61.4L397.4 56.9L398.9 49.9L400.3 41.1L401.8 35.6L404.0 29.5L404.8 26.3L406.2 20.3L406.5 20.4L408.5 42.6L409.2 52.4L411.9 88.0L414.0 40.6L414.4 36.4L417.3 20.3L420.8 91.4L423.0 56.3L423.2 53.2L425.4 25.4L428.0 55.2L431.0 125.8L433.0 59.7L434.3 26.5L435.5 48.0L436.0 57.9L439.9 118.7L440.0 119.3L443.8 70.8L444.6 70.0L448.0 135.7L448.2 134.2L450.5 70.1L451.2 65.4L455.0 115.5L455.9 116.1L458.6 69.2L459.3 65.1L462.3 101.8L464.5 94.3L466.7 72.5L469.8 126.9L472.6 77.8L473.3 71.0L477.5 114.1L478.2 117.3L481.5 77.5L482.2 75.2L483.7 79.7L486.5 132.5L490.3 85.5L491.0 83.2L491.8 85.5L494.5 115.6L494.9 118.0L497.0 112.6L499.2 95.5L499.5 94.6L502.8 141.8L503.1 144.4L505.6 109.9L506.2 104.6L509.6 133.4L511.4 140.3L513.4 106.1L513.7 106.9L516.5 127.8L517.7 131.8L519.6 127.7L521.7 103.7L524.8 155.5L525.7 152.0L528.9 122.8L529.7 126.5L533.0 158.1L533.1 158.5L536.2 131.2L539.3 144.2L540.2 147.0L541.3 144.0L543.4 123.5L544.4 122.0L546.5 163.4L546.6 163.9L549.6 174.0L559.8 174.0L559.8 174.0L562.1 148.0L564.5 165.0L568.0 150.0L571.5 139.0L575.0 142.0L579.6 155.0L584.0 174.0L637.0 174.0" stroke="#ff8000" stroke-width="1.3" stroke-dasharray="2.5 1.8" fill="none" stroke-linejoin="round"/><path d="M362.8 119.3L365.3 174.0L371.2 174.0L373.6 134.5L376.1 174.0L377.8 174.0L379.4 96.5L381.1 174.0L385.3 174.0L388.6 121.2L391.0 83.1L393.4 72.8L393.7 70.8L395.0 64.5L395.2 63.9L397.4 58.2L398.9 53.3L400.3 45.8L401.8 38.7L404.0 30.7L404.8 27.6L406.2 21.9L406.5 21.0L408.5 43.2L409.2 53.7L411.9 93.5L414.0 42.6L414.4 39.2L417.3 18.5L420.8 87.1L423.0 54.1L423.2 51.2L425.4 21.0L428.0 53.9L431.0 118.2L433.0 55.0L434.3 21.2L435.5 44.6L436.0 54.6L439.9 111.6L440.0 112.8L443.8 65.0L444.6 57.0L448.0 119.6L448.2 115.1L450.5 53.4L451.2 59.0L455.0 103.2L455.9 92.6L458.6 53.2L459.3 59.9L462.3 96.8L464.5 80.5L466.7 61.5L469.8 109.5L472.6 62.3L473.3 65.1L477.5 105.3L478.2 102.4L481.5 69.0L482.2 64.4L483.7 76.4L486.5 118.0L490.3 77.7L491.0 73.4L491.8 78.7L494.5 108.3L494.9 108.7L497.0 100.9L499.2 86.1L499.5 86.7L502.8 128.6L503.1 129.4L505.6 100.1L506.2 98.3L509.6 125.8L511.4 125.6L513.4 98.4L513.7 98.1L516.5 119.8L517.7 125.9L519.6 117.2L521.7 95.0L524.8 139.1L525.7 140.0L528.9 113.5L529.7 113.9L533.0 144.5L533.1 144.5L536.2 117.8L539.3 134.4L540.2 138.6L541.3 132.3L543.4 110.9L544.4 115.4L546.5 153.8L546.6 154.6L549.6 174.0L559.8 174.0L559.8 174.0L562.1 140.0L564.5 155.0L565.6 138.6L572.6 125.8L578.5 130.5L584.3 145.6L589.0 174.0L637.0 174.0" stroke="#b050ff" stroke-width="1.2" stroke-dasharray="4 1.5 1 1.5" fill="none" stroke-linejoin="round"/><path d="M362.8 118.3L365.3 174.0L371.2 174.0L373.6 133.4L376.1 174.0L377.8 174.0L379.4 95.3L381.1 174.0L385.3 174.0L388.6 119.0L391.0 81.0L393.4 70.4L393.7 68.8L395.0 62.8L395.2 62.2L397.4 56.3L398.9 51.8L400.3 44.5L401.8 37.2L404.0 28.8L404.8 25.6L406.2 21.0L406.5 20.2L408.5 41.0L409.2 51.4L411.9 91.2L414.0 40.8L414.4 37.8L417.3 17.1L420.8 82.5L423.0 51.4L423.2 48.6L425.4 18.9L428.0 51.3L431.0 113.0L433.0 51.7L434.3 19.1L435.5 41.9L436.0 51.5L439.9 106.5L440.0 107.8L443.8 62.4L444.6 53.7L448.0 113.5L448.2 108.7L450.5 50.0L451.2 56.6L455.0 97.9L455.9 86.7L458.6 50.3L459.3 57.7L462.3 92.5L464.5 76.1L466.7 58.7L469.8 102.6L472.6 57.8L473.3 62.3L477.5 99.3L478.2 94.7L481.5 64.6L482.2 59.2L483.7 73.2L486.5 107.8L490.3 71.8L491.0 66.6L491.8 73.0L494.5 100.0L494.9 99.0L497.0 89.4L499.2 76.4L499.5 78.1L502.8 112.9L503.1 112.1L505.6 89.6L506.2 91.0L509.6 115.6L511.4 109.1L513.4 89.9L513.7 88.7L516.5 109.8L517.7 117.4L519.6 104.9L521.7 85.5L524.8 120.6L525.7 125.5L528.9 103.1L529.7 100.7L533.0 128.4L533.1 128.0L536.2 103.7L539.3 122.4L540.2 127.5L541.3 118.6L543.4 97.5L544.4 107.9L546.5 142.5L546.6 143.7L549.6 174.0L559.8 174.0L559.8 174.0L562.1 115.0L564.5 140.0L566.8 122.3L572.6 114.1L579.6 122.3L586.6 145.6L590.1 166.6L591.0 174.0L637.0 174.0" stroke="#1a8c1a" stroke-width="1.35" stroke-dasharray="4.5 3" fill="none" stroke-linejoin="round"/><path d="M362.8 118.6L365.3 174.0L371.2 174.0L373.6 133.6L376.1 174.0L377.8 174.0L379.4 95.6L381.1 174.0L385.3 174.0L388.6 119.0L391.0 81.0L393.4 70.3L393.7 68.9L395.0 63.0L395.2 62.5L397.4 56.4L398.9 52.2L400.3 45.2L401.8 37.5L404.0 28.9L404.8 25.8L406.2 21.5L406.5 20.6L408.5 41.0L409.2 51.4L411.9 91.5L414.0 41.0L414.4 38.2L417.3 17.2L420.8 81.5L423.0 51.0L423.2 48.4L425.4 18.7L428.0 51.0L431.0 111.5L433.0 51.0L434.3 18.7L435.5 41.5L436.0 51.0L439.9 105.1L440.0 106.5L443.8 62.0L444.6 52.6L448.0 111.5L448.2 106.5L450.5 48.9L451.2 56.3L455.0 96.5L455.9 84.8L458.6 49.6L459.3 57.5L462.3 91.6L464.5 74.9L466.7 58.0L469.8 100.2L472.6 56.3L473.3 61.7L477.5 97.3L478.2 91.8L481.5 63.1L482.2 57.4L483.7 72.5L486.5 103.7L490.3 69.7L491.0 63.9L491.8 70.9L494.5 96.7L494.9 95.0L497.0 84.5L499.2 72.3L499.5 74.6L502.8 105.9L503.1 104.3L505.6 85.1L506.2 88.0L509.6 111.3L511.4 101.8L513.4 86.4L513.7 84.8L516.5 105.6L517.7 113.9L519.6 99.6L521.7 81.6L524.8 112.3L525.7 119.1L528.9 98.7L529.7 94.9L533.0 121.2L533.1 120.6L536.2 97.6L539.3 117.2L540.2 122.8L541.3 112.7L543.4 91.7L544.4 104.9L546.5 137.7L546.6 139.1L549.6 174.0L559.8 174.0L559.8 174.0L562.1 108.0L564.5 130.0L568.0 110.6L572.6 107.1L580.0 110.0L590.1 141.0L593.6 161.9L594.5 174.0L637.0 174.0" stroke="#3a3aff" stroke-width="1.2" stroke-dasharray="1 1.2" fill="none" stroke-linejoin="round"/><path d="M362.8 116.8L365.3 174.0L371.2 174.0L373.6 131.8L376.1 174.0L377.8 174.0L379.4 93.8L381.1 174.0L385.3 174.0L388.6 117.4L391.0 79.4L395.0 61.4L398.9 50.6L401.8 35.9L404.8 24.1L406.5 18.8L408.5 39.4L411.9 90.0L414.0 39.4L417.3 15.4L420.8 80.0L423.0 49.4L425.4 16.9L428.0 49.4L431.0 110.0L433.0 49.4L434.3 16.9L436.0 49.4L440.0 105.0L444.6 50.8L448.0 110.0L450.5 47.1L455.0 95.0L458.6 47.8L462.3 90.0L466.7 55.9L469.8 98.0L472.6 53.7L477.5 95.0L482.2 54.4L486.5 100.0L491.0 60.3L494.5 93.3L499.2 67.7L502.8 100.0L505.6 80.2L509.6 107.2L513.7 80.2L517.7 110.4L521.7 77.0L525.7 113.6L529.7 89.1L533.0 115.2L536.2 91.5L540.2 118.4L543.4 85.9L546.6 134.4L549.6 174.0L559.8 174.0L559.8 174.0L562.1 103.6L564.5 125.0L568.0 101.3L573.8 96.7L582.0 101.3L589.0 117.6L592.4 138.6L594.8 161.9L595.5 174.0L637.0 174.0" stroke="#7b4f1e" stroke-width="1.2" stroke-dasharray="3.5 1.6 1.1 1.6 1.1 1.6" fill="none" stroke-linejoin="round"/><path d="M362.8 118.0L365.3 174.0L371.2 174.0L373.6 133.0L376.1 174.0L377.8 174.0L379.4 95.0L381.1 174.0L385.3 174.0L388.6 118.0L391.0 80.0L395.0 62.0L398.9 51.2L401.8 36.5L404.8 24.7L406.5 20.0L408.5 40.0L411.9 90.0L414.0 40.0L417.3 16.6L420.8 80.0L423.0 50.0L425.4 18.1L428.0 50.0L431.0 110.0L433.0 50.0L434.3 18.1L436.0 50.0L440.0 105.0L444.6 52.0L448.0 110.0L450.5 48.3L455.0 95.0L458.6 49.0L462.3 90.0L466.7 57.1L469.8 98.0L472.6 54.9L477.5 95.0L482.2 55.6L486.5 100.0L491.0 61.5L494.5 93.3L499.2 68.9L502.8 100.0L505.6 81.4L509.6 107.2L513.7 81.4L517.7 110.4L521.7 78.2L525.7 113.6L529.7 90.3L533.0 115.2L536.2 92.7L540.2 118.4L543.4 87.1L546.6 135.0L549.6 174.0L559.8 174.0L559.8 174.0L562.1 105.0L564.5 125.0L571.5 95.5L577.3 96.7L585.5 108.3L592.4 131.6L596.0 161.9L597.0 174.0L637.0 174.0" stroke="#0000ff" stroke-width="1.45" stroke-dasharray="3.6 2.4 1.4 2.4" fill="none" stroke-linejoin="round"/><path d="M362.8 116.7L365.3 174.0L371.2 174.0L373.6 135.0L376.1 174.0L377.8 174.0L379.4 96.9L381.1 174.0L385.3 174.0L388.6 115.0L391.0 75.9L393.4 71.1L393.7 62.0L395.2 49.0L397.4 48.3L400.3 21.7L404.0 21.0L406.2 12.2L409.2 43.9L411.9 64.7L414.4 23.2L417.3 23.2L420.8 99.3L423.2 55.0L425.4 36.5L428.0 55.0L431.0 144.0L433.0 70.0L434.3 40.2L435.5 55.0L439.9 135.3L443.8 82.2L448.2 165.3L451.2 73.3L455.9 140.9L459.3 68.9L462.3 104.3L464.5 103.6L466.7 79.2L469.8 136.0L473.3 74.1L478.2 126.3L481.5 83.0L483.7 81.5L486.5 143.0L490.3 91.8L491.8 91.1L494.9 126.3L497.0 124.2L499.5 103.3L503.1 161.1L506.2 111.5L511.4 157.0L513.4 114.6L516.5 136.3L519.6 139.4L521.7 113.6L524.8 174.0L528.9 133.2L533.1 174.0L536.2 146.7L539.3 154.9L541.3 157.0L544.4 129.1L546.5 174.0L559.8 174.0L562.1 152.6L564.5 172.0L568.0 154.9L571.5 142.1L575.0 145.6L579.6 159.6L583.1 174.0L637.0 174.0" stroke="#ff0000" stroke-width="1.7" fill="none" stroke-linejoin="round"/></g><path d="M366.9 50.6V55.6M364.1 50.6h5.6M364.1 55.6h5.6M386.6 64.6V70.2M383.8 64.6h5.6M383.8 70.2h5.6M445.7 57.0V70.2M442.9 57.0h5.6M442.9 70.2h5.6M552.8 81.5V86.3M550.0 81.5h5.6M550.0 86.3h5.6M557.5 83.5V88.1M554.7 83.5h5.6M554.7 88.1h5.6M562.2 89.4V95.4M559.4 89.4h5.6M559.4 95.4h5.6M565.9 82.9V87.7M563.1 82.9h5.6M563.1 87.7h5.6M601.3 53.0V57.4M598.5 53.0h5.6M598.5 57.4h5.6M606.6 69.7V72.9M603.8 69.7h5.6M603.8 72.9h5.6M609.8 72.5V77.5M607.0 72.5h5.6M607.0 77.5h5.6M613.1 75.5V80.5M610.3 75.5h5.6M610.3 80.5h5.6M615.8 76.0V85.0M613.0 76.0h5.6M613.0 85.0h5.6M617.8 78.9V89.9M615.0 78.9h5.6M615.0 89.9h5.6M623.5 69.4V79.7M620.7 69.4h5.6M620.7 79.7h5.6M439.6 41.6V172.0M436.4 41.6h6.4" stroke="#000" stroke-width="1.3" fill="none"/><path d="M364.80 55.00L363.32 54.28L363.30 52.87L361.80 53.56L360.30 52.87L360.28 54.28L358.80 55.00L360.28 55.72L360.30 57.13L361.80 56.44L363.30 57.13L363.32 55.72ZM367.30 52.70L365.82 51.98L365.80 50.57L364.30 51.27L362.80 50.57L362.78 51.98L361.30 52.70L362.78 53.42L362.80 54.83L364.30 54.14L365.80 54.83L365.82 53.42ZM369.90 53.10L368.42 52.38L368.40 50.97L366.90 51.66L365.40 50.97L365.38 52.38L363.90 53.10L365.38 53.82L365.40 55.23L366.90 54.54L368.40 55.23L368.42 53.82ZM372.70 55.00L371.22 54.28L371.20 52.87L369.70 53.56L368.20 52.87L368.18 54.28L366.70 55.00L368.18 55.72L368.20 57.13L369.70 56.44L371.20 57.13L371.22 55.72ZM374.60 56.40L373.12 55.68L373.10 54.27L371.60 54.96L370.10 54.27L370.08 55.68L368.60 56.40L370.08 57.12L370.10 58.53L371.60 57.84L373.10 58.53L373.12 57.12ZM377.40 57.80L375.92 57.08L375.90 55.67L374.40 56.36L372.90 55.67L372.88 57.08L371.40 57.80L372.88 58.52L372.90 59.93L374.40 59.23L375.90 59.93L375.92 58.52ZM380.20 57.40L378.72 56.68L378.70 55.27L377.20 55.96L375.70 55.27L375.68 56.68L374.20 57.40L375.68 58.12L375.70 59.53L377.20 58.84L378.70 59.53L378.72 58.12ZM383.10 58.80L381.62 58.08L381.60 56.67L380.10 57.36L378.60 56.67L378.58 58.08L377.10 58.80L378.58 59.52L378.60 60.93L380.10 60.23L381.60 60.93L381.62 59.52ZM386.80 57.80L385.32 57.08L385.30 55.67L383.80 56.36L382.30 55.67L382.28 57.08L380.80 57.80L382.28 58.52L382.30 59.93L383.80 59.23L385.30 59.93L385.32 58.52ZM389.60 58.80L388.12 58.08L388.10 56.67L386.60 57.36L385.10 56.67L385.08 58.08L383.60 58.80L385.08 59.52L385.10 60.93L386.60 60.23L388.10 60.93L388.12 59.52ZM389.60 66.30L388.12 65.58L388.10 64.17L386.60 64.86L385.10 64.17L385.08 65.58L383.60 66.30L385.08 67.02L385.10 68.43L386.60 67.73L388.10 68.43L388.12 67.02ZM392.40 63.80L390.92 63.08L390.90 61.67L389.40 62.36L387.90 61.67L387.88 63.08L386.40 63.80L387.88 64.52L387.90 65.93L389.40 65.23L390.90 65.93L390.92 64.52ZM392.90 68.20L391.42 67.48L391.40 66.07L389.90 66.77L388.40 66.07L388.38 67.48L386.90 68.20L388.38 68.92L388.40 70.33L389.90 69.64L391.40 70.33L391.42 68.92ZM394.50 59.70L393.02 58.98L393.00 57.57L391.50 58.27L390.00 57.57L389.98 58.98L388.50 59.70L389.98 60.42L390.00 61.83L391.50 61.14L393.00 61.83L393.02 60.42ZM396.70 57.80L395.22 57.08L395.20 55.67L393.70 56.36L392.20 55.67L392.18 57.08L390.70 57.80L392.18 58.52L392.20 59.93L393.70 59.23L395.20 59.93L395.22 58.52ZM399.00 56.40L397.52 55.68L397.50 54.27L396.00 54.96L394.50 54.27L394.48 55.68L393.00 56.40L394.48 57.12L394.50 58.53L396.00 57.84L397.50 58.53L397.52 57.12ZM401.50 54.00L400.02 53.28L400.00 51.87L398.50 52.56L397.00 51.87L396.98 53.28L395.50 54.00L396.98 54.72L397.00 56.13L398.50 55.44L400.00 56.13L400.02 54.72ZM404.80 47.50L403.32 46.78L403.30 45.37L401.80 46.06L400.30 45.37L400.28 46.78L398.80 47.50L400.28 48.22L400.30 49.63L401.80 48.94L403.30 49.63L403.32 48.22ZM407.60 43.00L406.12 42.28L406.10 40.87L404.60 41.56L403.10 40.87L403.08 42.28L401.60 43.00L403.08 43.72L403.10 45.13L404.60 44.44L406.10 45.13L406.12 43.72ZM410.50 40.20L409.02 39.48L409.00 38.07L407.50 38.77L406.00 38.07L405.98 39.48L404.50 40.20L405.98 40.92L406.00 42.33L407.50 41.64L409.00 42.33L409.02 40.92ZM412.40 35.50L410.92 34.78L410.90 33.37L409.40 34.06L407.90 33.37L407.88 34.78L406.40 35.50L407.88 36.22L407.90 37.63L409.40 36.94L410.90 37.63L410.92 36.22ZM413.80 29.40L412.32 28.68L412.30 27.27L410.80 27.96L409.30 27.27L409.28 28.68L407.80 29.40L409.28 30.12L409.30 31.53L410.80 30.83L412.30 31.53L412.32 30.12ZM417.10 29.80L415.62 29.08L415.60 27.67L414.10 28.37L412.60 27.67L412.58 29.08L411.10 29.80L412.58 30.52L412.60 31.93L414.10 31.23L415.60 31.93L415.62 30.52ZM419.90 28.00L418.42 27.28L418.40 25.87L416.90 26.57L415.40 25.87L415.38 27.28L413.90 28.00L415.38 28.72L415.40 30.13L416.90 29.43L418.40 30.13L418.42 28.72ZM421.80 29.40L420.32 28.68L420.30 27.27L418.80 27.96L417.30 27.27L417.28 28.68L415.80 29.40L417.28 30.12L417.30 31.53L418.80 30.83L420.30 31.53L420.32 30.12ZM419.90 33.10L418.42 32.38L418.40 30.97L416.90 31.67L415.40 30.97L415.38 32.38L413.90 33.10L415.38 33.82L415.40 35.23L416.90 34.54L418.40 35.23L418.42 33.82ZM425.00 34.10L423.52 33.38L423.50 31.97L422.00 32.66L420.50 31.97L420.48 33.38L419.00 34.10L420.48 34.82L420.50 36.23L422.00 35.54L423.50 36.23L423.52 34.82ZM425.70 37.00L424.22 36.28L424.20 34.87L422.70 35.56L421.20 34.87L421.18 36.28L419.70 37.00L421.18 37.72L421.20 39.13L422.70 38.44L424.20 39.13L424.22 37.72ZM429.30 42.50L427.82 41.78L427.80 40.37L426.30 41.06L424.80 40.37L424.78 41.78L423.30 42.50L424.78 43.22L424.80 44.63L426.30 43.94L427.80 44.63L427.82 43.22ZM433.00 42.50L431.52 41.78L431.50 40.37L430.00 41.06L428.50 40.37L428.48 41.78L427.00 42.50L428.48 43.22L428.50 44.63L430.00 43.94L431.50 44.63L431.52 43.22ZM435.80 43.50L434.32 42.78L434.30 41.37L432.80 42.06L431.30 41.37L431.28 42.78L429.80 43.50L431.28 44.22L431.30 45.63L432.80 44.94L434.30 45.63L434.32 44.22ZM439.60 43.50L438.12 42.78L438.10 41.37L436.60 42.06L435.10 41.37L435.08 42.78L433.60 43.50L435.08 44.22L435.10 45.63L436.60 44.94L438.10 45.63L438.12 44.22ZM442.60 51.00L441.12 50.28L441.10 48.87L439.60 49.56L438.10 48.87L438.08 50.28L436.60 51.00L438.08 51.72L438.10 53.13L439.60 52.44L441.10 53.13L441.12 51.72ZM445.40 58.90L443.92 58.18L443.90 56.77L442.40 57.46L440.90 56.77L440.88 58.18L439.40 58.90L440.88 59.62L440.90 61.03L442.40 60.34L443.90 61.03L443.92 59.62ZM448.70 60.30L447.22 59.58L447.20 58.17L445.70 58.86L444.20 58.17L444.18 59.58L442.70 60.30L444.18 61.02L444.20 62.43L445.70 61.73L447.20 62.43L447.22 61.02ZM451.30 59.60L449.82 58.88L449.80 57.47L448.30 58.16L446.80 57.47L446.78 58.88L445.30 59.60L446.78 60.32L446.80 61.73L448.30 61.04L449.80 61.73L449.82 60.32ZM453.80 59.50L452.32 58.78L452.30 57.37L450.80 58.06L449.30 57.37L449.28 58.78L447.80 59.50L449.28 60.22L449.30 61.63L450.80 60.94L452.30 61.63L452.32 60.22ZM456.30 61.50L454.82 60.78L454.80 59.37L453.30 60.06L451.80 59.37L451.78 60.78L450.30 61.50L451.78 62.22L451.80 63.63L453.30 62.94L454.80 63.63L454.82 62.22ZM458.80 62.50L457.32 61.78L457.30 60.37L455.80 61.06L454.30 60.37L454.28 61.78L452.80 62.50L454.28 63.22L454.30 64.63L455.80 63.94L457.30 64.63L457.32 63.22ZM460.80 65.50L459.32 64.78L459.30 63.37L457.80 64.06L456.30 63.37L456.28 64.78L454.80 65.50L456.28 66.22L456.30 67.63L457.80 66.94L459.30 67.63L459.32 66.22ZM462.50 69.50L461.02 68.78L461.00 67.37L459.50 68.06L458.00 67.37L457.98 68.78L456.50 69.50L457.98 70.22L458.00 71.63L459.50 70.94L461.00 71.63L461.02 70.22ZM465.10 68.80L463.62 68.08L463.60 66.67L462.10 67.36L460.60 66.67L460.58 68.08L459.10 68.80L460.58 69.52L460.60 70.93L462.10 70.23L463.60 70.93L463.62 69.52ZM466.80 75.50L465.32 74.78L465.30 73.37L463.80 74.06L462.30 73.37L462.28 74.78L460.80 75.50L462.28 76.22L462.30 77.63L463.80 76.94L465.30 77.63L465.32 76.22ZM469.60 71.00L468.12 70.28L468.10 68.87L466.60 69.56L465.10 68.87L465.08 70.28L463.60 71.00L465.08 71.72L465.10 73.13L466.60 72.44L468.10 73.13L468.12 71.72ZM471.60 75.80L470.12 75.08L470.10 73.67L468.60 74.36L467.10 73.67L467.08 75.08L465.60 75.80L467.08 76.52L467.10 77.93L468.60 77.23L470.10 77.93L470.12 76.52ZM473.80 73.50L472.32 72.78L472.30 71.37L470.80 72.06L469.30 71.37L469.28 72.78L467.80 73.50L469.28 74.22L469.30 75.63L470.80 74.94L472.30 75.63L472.32 74.22ZM476.10 71.60L474.62 70.88L474.60 69.47L473.10 70.16L471.60 69.47L471.58 70.88L470.10 71.60L471.58 72.32L471.60 73.73L473.10 73.03L474.60 73.73L474.62 72.32ZM478.80 70.40L477.32 69.68L477.30 68.27L475.80 68.97L474.30 68.27L474.28 69.68L472.80 70.40L474.28 71.12L474.30 72.53L475.80 71.84L477.30 72.53L477.32 71.12ZM481.50 69.30L480.02 68.58L480.00 67.17L478.50 67.86L477.00 67.17L476.98 68.58L475.50 69.30L476.98 70.02L477.00 71.43L478.50 70.73L480.00 71.43L480.02 70.02ZM484.10 68.20L482.62 67.48L482.60 66.07L481.10 66.77L479.60 66.07L479.58 67.48L478.10 68.20L479.58 68.92L479.60 70.33L481.10 69.64L482.60 70.33L482.62 68.92ZM486.70 67.60L485.22 66.88L485.20 65.47L483.70 66.16L482.20 65.47L482.18 66.88L480.70 67.60L482.18 68.32L482.20 69.73L483.70 69.03L485.20 69.73L485.22 68.32ZM489.30 68.80L487.82 68.08L487.80 66.67L486.30 67.36L484.80 66.67L484.78 68.08L483.30 68.80L484.78 69.52L484.80 70.93L486.30 70.23L487.80 70.93L487.82 69.52ZM492.10 69.00L490.62 68.28L490.60 66.87L489.10 67.56L487.60 66.87L487.58 68.28L486.10 69.00L487.58 69.72L487.60 71.13L489.10 70.44L490.60 71.13L490.62 69.72ZM494.80 68.30L493.32 67.58L493.30 66.17L491.80 66.86L490.30 66.17L490.28 67.58L488.80 68.30L490.28 69.02L490.30 70.43L491.80 69.73L493.30 70.43L493.32 69.02ZM497.50 67.20L496.02 66.48L496.00 65.07L494.50 65.77L493.00 65.07L492.98 66.48L491.50 67.20L492.98 67.92L493.00 69.33L494.50 68.64L496.00 69.33L496.02 67.92ZM500.20 66.30L498.72 65.58L498.70 64.17L497.20 64.86L495.70 64.17L495.68 65.58L494.20 66.30L495.68 67.02L495.70 68.43L497.20 67.73L498.70 68.43L498.72 67.02ZM502.90 65.00L501.42 64.28L501.40 62.87L499.90 63.56L498.40 62.87L498.38 64.28L496.90 65.00L498.38 65.72L498.40 67.13L499.90 66.44L501.40 67.13L501.42 65.72ZM505.60 62.80L504.12 62.08L504.10 60.67L502.60 61.36L501.10 60.67L501.08 62.08L499.60 62.80L501.08 63.52L501.10 64.93L502.60 64.23L504.10 64.93L504.12 63.52ZM508.20 61.20L506.72 60.48L506.70 59.07L505.20 59.77L503.70 59.07L503.68 60.48L502.20 61.20L503.68 61.92L503.70 63.33L505.20 62.64L506.70 63.33L506.72 61.92ZM510.80 61.80L509.32 61.08L509.30 59.67L507.80 60.36L506.30 59.67L506.28 61.08L504.80 61.80L506.28 62.52L506.30 63.93L507.80 63.23L509.30 63.93L509.32 62.52ZM513.50 62.80L512.02 62.08L512.00 60.67L510.50 61.36L509.00 60.67L508.98 62.08L507.50 62.80L508.98 63.52L509.00 64.93L510.50 64.23L512.00 64.93L512.02 63.52ZM516.20 63.60L514.72 62.88L514.70 61.47L513.20 62.16L511.70 61.47L511.68 62.88L510.20 63.60L511.68 64.32L511.70 65.73L513.20 65.03L514.70 65.73L514.72 64.32ZM518.90 65.50L517.42 64.78L517.40 63.37L515.90 64.06L514.40 63.37L514.38 64.78L512.90 65.50L514.38 66.22L514.40 67.63L515.90 66.94L517.40 67.63L517.42 66.22ZM521.60 67.80L520.12 67.08L520.10 65.67L518.60 66.36L517.10 65.67L517.08 67.08L515.60 67.80L517.08 68.52L517.10 69.93L518.60 69.23L520.10 69.93L520.12 68.52ZM524.30 69.80L522.82 69.08L522.80 67.67L521.30 68.36L519.80 67.67L519.78 69.08L518.30 69.80L519.78 70.52L519.80 71.93L521.30 71.23L522.80 71.93L522.82 70.52ZM527.00 72.00L525.52 71.28L525.50 69.87L524.00 70.56L522.50 69.87L522.48 71.28L521.00 72.00L522.48 72.72L522.50 74.13L524.00 73.44L525.50 74.13L525.52 72.72ZM529.70 74.30L528.22 73.58L528.20 72.17L526.70 72.86L525.20 72.17L525.18 73.58L523.70 74.30L525.18 75.02L525.20 76.43L526.70 75.73L528.20 76.43L528.22 75.02ZM532.40 74.00L530.92 73.28L530.90 71.87L529.40 72.56L527.90 71.87L527.88 73.28L526.40 74.00L527.88 74.72L527.90 76.13L529.40 75.44L530.90 76.13L530.92 74.72ZM535.20 74.50L533.72 73.78L533.70 72.37L532.20 73.06L530.70 72.37L530.68 73.78L529.20 74.50L530.68 75.22L530.70 76.63L532.20 75.94L533.70 76.63L533.72 75.22ZM538.90 73.10L537.42 72.38L537.40 70.97L535.90 71.66L534.40 70.97L534.38 72.38L532.90 73.10L534.38 73.82L534.40 75.23L535.90 74.53L537.40 75.23L537.42 73.82ZM542.70 74.10L541.22 73.38L541.20 71.97L539.70 72.66L538.20 71.97L538.18 73.38L536.70 74.10L538.18 74.82L538.20 76.23L539.70 75.53L541.20 76.23L541.22 74.82ZM546.40 75.00L544.92 74.28L544.90 72.87L543.40 73.56L541.90 72.87L541.88 74.28L540.40 75.00L541.88 75.72L541.90 77.13L543.40 76.44L544.90 77.13L544.92 75.72ZM550.20 78.80L548.72 78.08L548.70 76.67L547.20 77.36L545.70 76.67L545.68 78.08L544.20 78.80L545.68 79.52L545.70 80.93L547.20 80.23L548.70 80.93L548.72 79.52ZM552.80 79.50L551.32 78.78L551.30 77.37L549.80 78.06L548.30 77.37L548.28 78.78L546.80 79.50L548.28 80.22L548.30 81.63L549.80 80.94L551.30 81.63L551.32 80.22ZM554.90 80.20L553.42 79.48L553.40 78.07L551.90 78.77L550.40 78.07L550.38 79.48L548.90 80.20L550.38 80.92L550.40 82.33L551.90 81.64L553.40 82.33L553.42 80.92ZM555.80 83.90L554.32 83.18L554.30 81.77L552.80 82.47L551.30 81.77L551.28 83.18L549.80 83.90L551.28 84.62L551.30 86.03L552.80 85.34L554.30 86.03L554.32 84.62ZM560.50 85.80L559.02 85.08L559.00 83.67L557.50 84.36L556.00 83.67L555.98 85.08L554.50 85.80L555.98 86.52L556.00 87.93L557.50 87.23L559.00 87.93L559.02 86.52ZM563.30 79.70L561.82 78.98L561.80 77.57L560.30 78.27L558.80 77.57L558.78 78.98L557.30 79.70L558.78 80.42L558.80 81.83L560.30 81.14L561.80 81.83L561.82 80.42ZM565.20 92.40L563.72 91.68L563.70 90.27L562.20 90.97L560.70 90.27L560.68 91.68L559.20 92.40L560.68 93.12L560.70 94.53L562.20 93.84L563.70 94.53L563.72 93.12ZM568.90 85.30L567.42 84.58L567.40 83.17L565.90 83.86L564.40 83.17L564.38 84.58L562.90 85.30L564.38 86.02L564.40 87.43L565.90 86.73L567.40 87.43L567.42 86.02ZM572.30 82.00L570.82 81.28L570.80 79.87L569.30 80.56L567.80 79.87L567.78 81.28L566.30 82.00L567.78 82.72L567.80 84.13L569.30 83.44L570.80 84.13L570.82 82.72ZM575.50 75.50L574.02 74.78L574.00 73.37L572.50 74.06L571.00 73.37L570.98 74.78L569.50 75.50L570.98 76.22L571.00 77.63L572.50 76.94L574.00 77.63L574.02 76.22ZM577.40 72.60L575.92 71.88L575.90 70.47L574.40 71.16L572.90 70.47L572.88 71.88L571.40 72.60L572.88 73.32L572.90 74.73L574.40 74.03L575.90 74.73L575.92 73.32ZM579.40 65.50L577.92 64.78L577.90 63.37L576.40 64.06L574.90 63.37L574.88 64.78L573.40 65.50L574.88 66.22L574.90 67.63L576.40 66.94L577.90 67.63L577.92 66.22ZM582.70 61.30L581.22 60.58L581.20 59.17L579.70 59.86L578.20 59.17L578.18 60.58L576.70 61.30L578.18 62.02L578.20 63.43L579.70 62.73L581.20 63.43L581.22 62.02ZM585.00 55.60L583.52 54.88L583.50 53.47L582.00 54.16L580.50 53.47L580.48 54.88L579.00 55.60L580.48 56.32L580.50 57.73L582.00 57.04L583.50 57.73L583.52 56.32ZM587.80 51.40L586.32 50.68L586.30 49.27L584.80 49.96L583.30 49.27L583.28 50.68L581.80 51.40L583.28 52.12L583.30 53.53L584.80 52.84L586.30 53.53L586.32 52.12ZM590.20 48.60L588.72 47.88L588.70 46.47L587.20 47.16L585.70 46.47L585.68 47.88L584.20 48.60L585.68 49.32L585.70 50.73L587.20 50.04L588.70 50.73L588.72 49.32ZM592.50 44.80L591.02 44.08L591.00 42.67L589.50 43.36L588.00 42.67L587.98 44.08L586.50 44.80L587.98 45.52L588.00 46.93L589.50 46.23L591.00 46.93L591.02 45.52ZM595.30 43.90L593.82 43.18L593.80 41.77L592.30 42.46L590.80 41.77L590.78 43.18L589.30 43.90L590.78 44.62L590.80 46.03L592.30 45.34L593.80 46.03L593.82 44.62ZM598.60 43.00L597.12 42.28L597.10 40.87L595.60 41.56L594.10 40.87L594.08 42.28L592.60 43.00L594.08 43.72L594.10 45.13L595.60 44.44L597.10 45.13L597.12 43.72ZM601.40 48.60L599.92 47.88L599.90 46.47L598.40 47.16L596.90 46.47L596.88 47.88L595.40 48.60L596.88 49.32L596.90 50.73L598.40 50.04L599.90 50.73L599.92 49.32ZM604.30 55.20L602.82 54.48L602.80 53.07L601.30 53.77L599.80 53.07L599.78 54.48L598.30 55.20L599.78 55.92L599.80 57.33L601.30 56.64L602.80 57.33L602.82 55.92ZM607.10 62.20L605.62 61.48L605.60 60.07L604.10 60.77L602.60 60.07L602.58 61.48L601.10 62.20L602.58 62.92L602.60 64.33L604.10 63.64L605.60 64.33L605.62 62.92ZM609.60 71.30L608.12 70.58L608.10 69.17L606.60 69.86L605.10 69.17L605.08 70.58L603.60 71.30L605.08 72.02L605.10 73.43L606.60 72.73L608.10 73.43L608.12 72.02ZM612.80 75.00L611.32 74.28L611.30 72.87L609.80 73.56L608.30 72.87L608.28 74.28L606.80 75.00L608.28 75.72L608.30 77.13L609.80 76.44L611.30 77.13L611.32 75.72ZM616.10 78.00L614.62 77.28L614.60 75.87L613.10 76.56L611.60 75.87L611.58 77.28L610.10 78.00L611.58 78.72L611.60 80.13L613.10 79.44L614.60 80.13L614.62 78.72ZM618.80 80.50L617.32 79.78L617.30 78.37L615.80 79.06L614.30 78.37L614.28 79.78L612.80 80.50L614.28 81.22L614.30 82.63L615.80 81.94L617.30 82.63L617.32 81.22ZM620.80 84.40L619.32 83.68L619.30 82.27L617.80 82.97L616.30 82.27L616.28 83.68L614.80 84.40L616.28 85.12L616.30 86.53L617.80 85.84L619.30 86.53L619.32 85.12ZM622.90 80.50L621.42 79.78L621.40 78.37L619.90 79.06L618.40 78.37L618.38 79.78L616.90 80.50L618.38 81.22L618.40 82.63L619.90 81.94L621.40 82.63L621.42 81.22ZM626.50 73.60L625.02 72.88L625.00 71.47L623.50 72.16L622.00 71.47L621.98 72.88L620.50 73.60L621.98 74.32L622.00 75.73L623.50 75.03L625.00 75.73L625.02 74.32ZM628.10 51.10L626.62 50.38L626.60 48.97L625.10 49.66L623.60 48.97L623.58 50.38L622.10 51.10L623.58 51.82L623.60 53.23L625.10 52.54L626.60 53.23L626.62 51.82ZM631.30 51.10L629.82 50.38L629.80 48.97L628.30 49.66L626.80 48.97L626.78 50.38L625.30 51.10L626.78 51.82L626.80 53.23L628.30 52.54L629.80 53.23L629.82 51.82ZM633.10 55.90L631.62 55.18L631.60 53.77L630.10 54.46L628.60 53.77L628.58 55.18L627.10 55.90L628.58 56.62L628.60 58.03L630.10 57.34L631.60 58.03L631.62 56.62ZM634.10 59.20L632.62 58.48L632.60 57.07L631.10 57.77L629.60 57.07L629.58 58.48L628.10 59.20L629.58 59.92L629.60 61.33L631.10 60.64L632.60 61.33L632.62 59.92Z" fill="#000" stroke="#000" stroke-width="0.5" stroke-linejoin="round"/>
<g clip-path="url(#cd)"><path d="M362.0 259.3L367.0 263.0L373.3 280.2L376.5 286.6L380.0 285.0L384.5 283.4L391.7 272.2L396.6 264.1L399.8 252.9L403.0 240.0L408.0 225.0L413.0 220.0L417.0 217.0L420.0 222.0L424.0 218.0L428.0 206.0L431.0 203.0L434.3 196.0L437.0 203.0L441.0 203.0L445.0 203.0L448.0 221.0L451.0 242.0L453.0 262.0L456.0 266.0L460.0 260.0L463.0 250.0L467.0 247.0L474.0 242.0L480.0 240.0L487.0 238.0L494.0 230.0L500.0 230.0L507.0 235.0L513.0 237.0L520.0 239.0L527.0 240.0L534.0 238.0L541.0 232.0L545.0 230.0L551.0 236.0L557.0 247.0L563.0 255.0L568.0 247.0L572.0 232.0L576.0 227.0L579.0 219.0L582.0 204.0L585.0 201.0L589.0 193.0L593.4 181.6L596.0 193.0L600.0 202.0L603.0 213.0L606.0 224.0L609.0 245.0L611.0 302.1L613.0 298.0L618.0 292.0L625.0 290.0L632.0 292.0L637.0 290.0" stroke="#ff8000" stroke-width="1.3" stroke-dasharray="2.5 1.8" fill="none" stroke-linejoin="round"/><path d="M362.0 258.0L368.0 263.0L372.0 275.0L374.9 288.2L377.3 297.9L379.7 293.1L382.9 289.8L387.7 283.4L394.2 272.2L399.0 260.9L402.2 249.6L405.0 235.0L410.0 226.0L415.0 220.0L420.0 224.0L424.0 219.0L428.0 207.0L431.0 202.0L434.3 192.9L437.0 200.0L441.0 202.0L445.0 203.0L448.0 222.0L451.0 245.0L453.0 258.0L456.0 262.0L460.0 255.0L463.0 250.0L470.0 246.0L477.0 244.0L485.0 240.0L490.0 233.0L497.0 230.0L505.0 234.0L512.0 237.0L520.0 241.0L530.0 242.0L537.0 238.0L544.0 233.0L551.0 239.0L557.0 250.0L563.0 258.0L566.0 261.0L570.0 256.0L574.0 250.0L578.0 244.0L580.0 236.0L582.0 225.0L586.3 212.5L591.9 190.0L597.5 193.8L601.0 200.0L605.0 215.0L608.0 235.0L611.0 262.0L614.0 278.0L618.0 283.0L624.0 282.0L630.0 280.0L637.0 278.0" stroke="#b050ff" stroke-width="1.2" stroke-dasharray="4 1.5 1 1.5" fill="none" stroke-linejoin="round"/><path d="M362.0 251.3L368.4 260.9L373.3 277.0L376.5 282.6L379.7 282.6L382.1 283.4L384.5 278.6L389.3 268.1L392.5 260.9L396.0 252.0L400.0 240.0L404.0 228.0L410.0 222.0L415.0 218.0L421.5 228.2L427.0 213.0L431.0 205.0L434.3 200.0L437.0 207.0L441.0 205.0L445.0 205.0L448.0 218.0L451.0 240.0L453.0 250.0L456.0 254.0L460.0 248.0L463.0 242.0L470.0 238.0L477.0 235.0L485.0 231.0L490.5 224.4L496.0 223.0L502.0 225.0L510.0 229.0L518.0 232.0L525.0 232.0L530.5 232.0L537.0 229.0L543.9 224.0L550.0 231.0L556.0 240.0L562.0 248.0L564.8 236.0L571.8 218.6L577.0 209.8L582.3 195.9L587.5 190.7L592.7 182.5L596.0 193.0L600.0 205.0L605.0 236.9L607.0 245.0L610.0 262.0L614.0 278.0L618.0 283.0L624.0 282.0L630.0 282.0L637.0 280.0" stroke="#1a8c1a" stroke-width="1.35" stroke-dasharray="4.5 3" fill="none" stroke-linejoin="round"/><path d="M362.0 250.0L368.0 255.0L373.0 268.0L377.0 278.0L381.0 280.0L385.0 276.0L389.0 262.0L395.0 252.0L400.0 240.0L404.0 230.0L408.0 222.0L412.0 220.0L416.0 214.0L420.0 220.0L424.0 215.0L428.0 205.0L431.0 201.0L434.3 196.0L437.0 202.0L441.0 200.0L445.0 200.0L448.0 216.0L451.0 238.0L453.0 250.0L456.0 258.0L460.0 250.0L463.0 245.0L470.0 240.0L477.0 238.0L485.0 233.0L490.0 228.0L497.0 226.0L505.0 229.0L512.0 232.0L520.0 236.0L530.0 237.0L537.0 233.0L544.0 228.0L551.0 233.0L557.0 244.0L563.0 252.0L568.0 244.0L572.0 232.0L576.0 226.0L580.0 216.0L584.0 205.0L588.0 198.0L592.0 190.0L595.0 190.0L599.4 193.8L603.2 205.0L606.9 221.9L609.7 238.8L612.5 258.1L616.4 282.8L622.8 276.4L629.3 270.0L635.7 261.4L637.0 259.0" stroke="#3a3aff" stroke-width="1.2" stroke-dasharray="1 1.2" fill="none" stroke-linejoin="round"/><path d="M362.0 268.1L365.2 267.3L369.0 268.5L374.9 268.1L378.1 269.7L382.1 273.0L386.9 274.6L390.9 274.6L395.8 276.2L397.4 272.2L399.8 262.5L403.0 246.4L406.0 235.0L410.8 226.7L415.0 222.0L420.0 224.0L424.0 219.0L428.0 207.0L431.0 203.0L434.3 198.0L437.0 203.0L441.0 204.0L445.0 204.0L448.0 222.0L451.0 243.0L453.0 255.0L456.0 258.0L460.0 252.0L463.0 247.0L470.0 245.0L477.0 243.0L485.0 238.0L490.0 232.0L497.0 229.0L505.0 233.0L512.0 236.0L520.0 239.0L530.0 240.0L537.0 237.0L544.0 232.0L551.0 237.0L557.0 247.0L563.0 254.0L568.0 246.0L572.0 235.0L575.0 230.0L579.0 222.0L582.0 210.0L586.0 203.0L590.0 194.0L593.0 186.0L596.0 194.0L600.0 203.0L604.0 215.0L607.0 230.0L610.0 255.0L613.0 285.0L614.3 294.6L620.7 296.7L627.1 297.8L633.5 300.0L637.0 300.0" stroke="#7b4f1e" stroke-width="1.2" stroke-dasharray="3.5 1.6 1.1 1.6 1.1 1.6" fill="none" stroke-linejoin="round"/><path d="M362.0 244.8L366.8 251.3L370.0 259.3L373.3 268.9L376.5 274.6L379.7 271.4L382.9 269.7L386.1 259.3L389.3 252.9L393.4 248.8L396.6 244.8L399.0 240.0L402.9 228.5L407.0 218.0L410.2 222.0L415.0 210.5L419.9 218.0L423.9 213.0L427.9 203.0L431.1 200.0L434.3 195.0L436.8 200.0L439.2 204.0L441.6 199.0L444.8 199.0L447.2 212.0L450.0 235.0L452.6 245.9L456.1 258.1L459.6 250.0L462.6 244.0L466.1 241.8L470.5 238.0L474.8 236.0L480.1 233.0L485.3 231.0L490.5 226.0L495.7 224.4L500.1 225.0L505.3 228.0L509.7 229.6L516.7 233.0L523.6 235.0L530.6 234.0L537.0 231.0L543.9 225.0L550.9 231.0L556.3 243.0L562.8 250.0L567.5 240.0L571.3 228.0L575.0 224.0L578.8 214.0L581.6 205.0L585.0 198.0L588.1 193.0L592.8 186.0L596.0 192.0L600.0 198.0L604.0 208.0L607.0 218.0L610.7 248.8L613.0 262.0L616.4 285.0L620.0 283.0L624.0 280.0L629.0 276.0L633.0 275.0L637.0 272.0" stroke="#0000ff" stroke-width="1.45" stroke-dasharray="3.6 2.4 1.4 2.4" fill="none" stroke-linejoin="round"/><path d="M362.0 253.7L365.2 258.5L368.4 261.7L371.6 270.5L374.1 281.8L376.5 297.1L378.9 286.6L381.3 288.2L384.5 280.2L387.7 272.2L390.9 260.9L394.2 257.7L397.4 252.9L399.8 243.2L402.9 232.0L404.7 228.5L407.0 219.4L410.2 225.0L413.4 218.6L416.7 216.2L419.9 221.8L423.9 217.0L427.9 205.7L431.1 202.5L434.3 196.1L436.8 202.5L439.2 206.5L441.6 201.7L444.8 201.7L447.2 220.2L450.4 240.0L452.6 260.0L453.5 270.3L457.0 271.2L459.6 265.1L461.3 251.1L462.6 250.5L466.1 245.3L467.9 247.0L470.5 241.8L473.1 243.6L474.8 240.1L477.5 241.8L480.1 237.5L482.7 239.2L485.3 236.6L487.0 240.1L487.9 231.4L490.5 227.9L492.3 230.5L494.0 226.1L496.6 227.9L498.4 230.5L500.1 227.9L502.7 232.2L505.3 232.2L507.9 234.0L510.6 232.2L513.2 235.7L516.7 236.6L520.1 237.5L523.6 239.2L527.1 237.5L530.6 239.2L533.5 232.5L537.0 236.0L540.5 229.9L543.9 227.3L547.4 231.6L550.9 234.2L556.3 246.9L562.8 254.4L567.5 245.0L571.3 231.3L575.0 227.5L578.8 218.2L581.6 203.1L584.4 201.3L588.1 193.8L592.8 184.4L595.6 193.8L599.4 201.3L603.2 212.5L605.0 227.0L606.7 241.0L608.6 256.0L610.8 271.0L613.5 285.0L616.4 292.5L619.1 286.3L620.7 282.8L623.8 279.7L626.6 283.5L629.4 280.7L633.2 278.8L637.0 275.0" stroke="#ff0000" stroke-width="1.7" fill="none" stroke-linejoin="round"/></g><path d="M366.9 215.6V220.6M364.1 215.6h5.6M364.1 220.6h5.6M386.6 229.6V235.2M383.8 229.6h5.6M383.8 235.2h5.6M445.7 222.0V235.2M442.9 222.0h5.6M442.9 235.2h5.6M552.8 246.5V251.3M550.0 246.5h5.6M550.0 251.3h5.6M557.5 248.5V253.1M554.7 248.5h5.6M554.7 253.1h5.6M562.2 254.4V260.4M559.4 254.4h5.6M559.4 260.4h5.6M565.9 247.9V252.7M563.1 247.9h5.6M563.1 252.7h5.6M601.3 218.0V222.4M598.5 218.0h5.6M598.5 222.4h5.6M606.6 234.7V237.9M603.8 234.7h5.6M603.8 237.9h5.6M609.8 237.5V242.5M607.0 237.5h5.6M607.0 242.5h5.6M613.1 240.5V245.5M610.3 240.5h5.6M610.3 245.5h5.6M615.8 241.0V250.0M613.0 241.0h5.6M613.0 250.0h5.6M617.8 243.9V254.9M615.0 243.9h5.6M615.0 254.9h5.6M623.5 234.4V244.7M620.7 234.4h5.6M620.7 244.7h5.6M439.6 206.6V337.0M436.4 206.6h6.4" stroke="#000" stroke-width="1.3" fill="none"/><path d="M364.80 220.00L363.32 219.28L363.30 217.87L361.80 218.56L360.30 217.87L360.28 219.28L358.80 220.00L360.28 220.72L360.30 222.13L361.80 221.44L363.30 222.13L363.32 220.72ZM367.30 217.70L365.82 216.98L365.80 215.57L364.30 216.26L362.80 215.57L362.78 216.98L361.30 217.70L362.78 218.42L362.80 219.83L364.30 219.13L365.80 219.83L365.82 218.42ZM369.90 218.10L368.42 217.38L368.40 215.97L366.90 216.66L365.40 215.97L365.38 217.38L363.90 218.10L365.38 218.82L365.40 220.23L366.90 219.53L368.40 220.23L368.42 218.82ZM372.70 220.00L371.22 219.28L371.20 217.87L369.70 218.56L368.20 217.87L368.18 219.28L366.70 220.00L368.18 220.72L368.20 222.13L369.70 221.44L371.20 222.13L371.22 220.72ZM374.60 221.40L373.12 220.68L373.10 219.27L371.60 219.97L370.10 219.27L370.08 220.68L368.60 221.40L370.08 222.12L370.10 223.53L371.60 222.84L373.10 223.53L373.12 222.12ZM377.40 222.80L375.92 222.08L375.90 220.67L374.40 221.37L372.90 220.67L372.88 222.08L371.40 222.80L372.88 223.52L372.90 224.93L374.40 224.24L375.90 224.93L375.92 223.52ZM380.20 222.40L378.72 221.68L378.70 220.27L377.20 220.97L375.70 220.27L375.68 221.68L374.20 222.40L375.68 223.12L375.70 224.53L377.20 223.84L378.70 224.53L378.72 223.12ZM383.10 223.80L381.62 223.08L381.60 221.67L380.10 222.37L378.60 221.67L378.58 223.08L377.10 223.80L378.58 224.52L378.60 225.93L380.10 225.24L381.60 225.93L381.62 224.52ZM386.80 222.80L385.32 222.08L385.30 220.67L383.80 221.37L382.30 220.67L382.28 222.08L380.80 222.80L382.28 223.52L382.30 224.93L383.80 224.24L385.30 224.93L385.32 223.52ZM389.60 223.80L388.12 223.08L388.10 221.67L386.60 222.37L385.10 221.67L385.08 223.08L383.60 223.80L385.08 224.52L385.10 225.93L386.60 225.24L388.10 225.93L388.12 224.52ZM389.60 231.30L388.12 230.58L388.10 229.17L386.60 229.87L385.10 229.17L385.08 230.58L383.60 231.30L385.08 232.02L385.10 233.43L386.60 232.74L388.10 233.43L388.12 232.02ZM392.40 228.80L390.92 228.08L390.90 226.67L389.40 227.37L387.90 226.67L387.88 228.08L386.40 228.80L387.88 229.52L387.90 230.93L389.40 230.24L390.90 230.93L390.92 229.52ZM392.90 233.20L391.42 232.48L391.40 231.07L389.90 231.76L388.40 231.07L388.38 232.48L386.90 233.20L388.38 233.92L388.40 235.33L389.90 234.63L391.40 235.33L391.42 233.92ZM394.50 224.70L393.02 223.98L393.00 222.57L391.50 223.26L390.00 222.57L389.98 223.98L388.50 224.70L389.98 225.42L390.00 226.83L391.50 226.13L393.00 226.83L393.02 225.42ZM396.70 222.80L395.22 222.08L395.20 220.67L393.70 221.37L392.20 220.67L392.18 222.08L390.70 222.80L392.18 223.52L392.20 224.93L393.70 224.24L395.20 224.93L395.22 223.52ZM399.00 221.40L397.52 220.68L397.50 219.27L396.00 219.97L394.50 219.27L394.48 220.68L393.00 221.40L394.48 222.12L394.50 223.53L396.00 222.84L397.50 223.53L397.52 222.12ZM401.50 219.00L400.02 218.28L400.00 216.87L398.50 217.56L397.00 216.87L396.98 218.28L395.50 219.00L396.98 219.72L397.00 221.13L398.50 220.44L400.00 221.13L400.02 219.72ZM404.80 212.50L403.32 211.78L403.30 210.37L401.80 211.06L400.30 210.37L400.28 211.78L398.80 212.50L400.28 213.22L400.30 214.63L401.80 213.94L403.30 214.63L403.32 213.22ZM407.60 208.00L406.12 207.28L406.10 205.87L404.60 206.56L403.10 205.87L403.08 207.28L401.60 208.00L403.08 208.72L403.10 210.13L404.60 209.44L406.10 210.13L406.12 208.72ZM410.50 205.20L409.02 204.48L409.00 203.07L407.50 203.76L406.00 203.07L405.98 204.48L404.50 205.20L405.98 205.92L406.00 207.33L407.50 206.63L409.00 207.33L409.02 205.92ZM412.40 200.50L410.92 199.78L410.90 198.37L409.40 199.06L407.90 198.37L407.88 199.78L406.40 200.50L407.88 201.22L407.90 202.63L409.40 201.94L410.90 202.63L410.92 201.22ZM413.80 194.40L412.32 193.68L412.30 192.27L410.80 192.97L409.30 192.27L409.28 193.68L407.80 194.40L409.28 195.12L409.30 196.53L410.80 195.84L412.30 196.53L412.32 195.12ZM417.10 194.80L415.62 194.08L415.60 192.67L414.10 193.37L412.60 192.67L412.58 194.08L411.10 194.80L412.58 195.52L412.60 196.93L414.10 196.24L415.60 196.93L415.62 195.52ZM419.90 193.00L418.42 192.28L418.40 190.87L416.90 191.56L415.40 190.87L415.38 192.28L413.90 193.00L415.38 193.72L415.40 195.13L416.90 194.44L418.40 195.13L418.42 193.72ZM421.80 194.40L420.32 193.68L420.30 192.27L418.80 192.97L417.30 192.27L417.28 193.68L415.80 194.40L417.28 195.12L417.30 196.53L418.80 195.84L420.30 196.53L420.32 195.12ZM419.90 198.10L418.42 197.38L418.40 195.97L416.90 196.66L415.40 195.97L415.38 197.38L413.90 198.10L415.38 198.82L415.40 200.23L416.90 199.53L418.40 200.23L418.42 198.82ZM425.00 199.10L423.52 198.38L423.50 196.97L422.00 197.66L420.50 196.97L420.48 198.38L419.00 199.10L420.48 199.82L420.50 201.23L422.00 200.53L423.50 201.23L423.52 199.82ZM425.70 202.00L424.22 201.28L424.20 199.87L422.70 200.56L421.20 199.87L421.18 201.28L419.70 202.00L421.18 202.72L421.20 204.13L422.70 203.44L424.20 204.13L424.22 202.72ZM429.30 207.50L427.82 206.78L427.80 205.37L426.30 206.06L424.80 205.37L424.78 206.78L423.30 207.50L424.78 208.22L424.80 209.63L426.30 208.94L427.80 209.63L427.82 208.22ZM433.00 207.50L431.52 206.78L431.50 205.37L430.00 206.06L428.50 205.37L428.48 206.78L427.00 207.50L428.48 208.22L428.50 209.63L430.00 208.94L431.50 209.63L431.52 208.22ZM435.80 208.50L434.32 207.78L434.30 206.37L432.80 207.06L431.30 206.37L431.28 207.78L429.80 208.50L431.28 209.22L431.30 210.63L432.80 209.94L434.30 210.63L434.32 209.22ZM439.60 208.50L438.12 207.78L438.10 206.37L436.60 207.06L435.10 206.37L435.08 207.78L433.60 208.50L435.08 209.22L435.10 210.63L436.60 209.94L438.10 210.63L438.12 209.22ZM442.60 216.00L441.12 215.28L441.10 213.87L439.60 214.56L438.10 213.87L438.08 215.28L436.60 216.00L438.08 216.72L438.10 218.13L439.60 217.44L441.10 218.13L441.12 216.72ZM445.40 223.90L443.92 223.18L443.90 221.77L442.40 222.47L440.90 221.77L440.88 223.18L439.40 223.90L440.88 224.62L440.90 226.03L442.40 225.34L443.90 226.03L443.92 224.62ZM448.70 225.30L447.22 224.58L447.20 223.17L445.70 223.87L444.20 223.17L444.18 224.58L442.70 225.30L444.18 226.02L444.20 227.43L445.70 226.74L447.20 227.43L447.22 226.02ZM451.30 224.60L449.82 223.88L449.80 222.47L448.30 223.16L446.80 222.47L446.78 223.88L445.30 224.60L446.78 225.32L446.80 226.73L448.30 226.03L449.80 226.73L449.82 225.32ZM453.80 224.50L452.32 223.78L452.30 222.37L450.80 223.06L449.30 222.37L449.28 223.78L447.80 224.50L449.28 225.22L449.30 226.63L450.80 225.94L452.30 226.63L452.32 225.22ZM456.30 226.50L454.82 225.78L454.80 224.37L453.30 225.06L451.80 224.37L451.78 225.78L450.30 226.50L451.78 227.22L451.80 228.63L453.30 227.94L454.80 228.63L454.82 227.22ZM458.80 227.50L457.32 226.78L457.30 225.37L455.80 226.06L454.30 225.37L454.28 226.78L452.80 227.50L454.28 228.22L454.30 229.63L455.80 228.94L457.30 229.63L457.32 228.22ZM460.80 230.50L459.32 229.78L459.30 228.37L457.80 229.06L456.30 228.37L456.28 229.78L454.80 230.50L456.28 231.22L456.30 232.63L457.80 231.94L459.30 232.63L459.32 231.22ZM462.50 234.50L461.02 233.78L461.00 232.37L459.50 233.06L458.00 232.37L457.98 233.78L456.50 234.50L457.98 235.22L458.00 236.63L459.50 235.94L461.00 236.63L461.02 235.22ZM465.10 233.80L463.62 233.08L463.60 231.67L462.10 232.37L460.60 231.67L460.58 233.08L459.10 233.80L460.58 234.52L460.60 235.93L462.10 235.24L463.60 235.93L463.62 234.52ZM466.80 240.50L465.32 239.78L465.30 238.37L463.80 239.06L462.30 238.37L462.28 239.78L460.80 240.50L462.28 241.22L462.30 242.63L463.80 241.94L465.30 242.63L465.32 241.22ZM469.60 236.00L468.12 235.28L468.10 233.87L466.60 234.56L465.10 233.87L465.08 235.28L463.60 236.00L465.08 236.72L465.10 238.13L466.60 237.44L468.10 238.13L468.12 236.72ZM471.60 240.80L470.12 240.08L470.10 238.67L468.60 239.37L467.10 238.67L467.08 240.08L465.60 240.80L467.08 241.52L467.10 242.93L468.60 242.24L470.10 242.93L470.12 241.52ZM473.80 238.50L472.32 237.78L472.30 236.37L470.80 237.06L469.30 236.37L469.28 237.78L467.80 238.50L469.28 239.22L469.30 240.63L470.80 239.94L472.30 240.63L472.32 239.22ZM476.10 236.60L474.62 235.88L474.60 234.47L473.10 235.16L471.60 234.47L471.58 235.88L470.10 236.60L471.58 237.32L471.60 238.73L473.10 238.03L474.60 238.73L474.62 237.32ZM478.80 235.40L477.32 234.68L477.30 233.27L475.80 233.97L474.30 233.27L474.28 234.68L472.80 235.40L474.28 236.12L474.30 237.53L475.80 236.84L477.30 237.53L477.32 236.12ZM481.50 234.30L480.02 233.58L480.00 232.17L478.50 232.87L477.00 232.17L476.98 233.58L475.50 234.30L476.98 235.02L477.00 236.43L478.50 235.74L480.00 236.43L480.02 235.02ZM484.10 233.20L482.62 232.48L482.60 231.07L481.10 231.76L479.60 231.07L479.58 232.48L478.10 233.20L479.58 233.92L479.60 235.33L481.10 234.63L482.60 235.33L482.62 233.92ZM486.70 232.60L485.22 231.88L485.20 230.47L483.70 231.16L482.20 230.47L482.18 231.88L480.70 232.60L482.18 233.32L482.20 234.73L483.70 234.03L485.20 234.73L485.22 233.32ZM489.30 233.80L487.82 233.08L487.80 231.67L486.30 232.37L484.80 231.67L484.78 233.08L483.30 233.80L484.78 234.52L484.80 235.93L486.30 235.24L487.80 235.93L487.82 234.52ZM492.10 234.00L490.62 233.28L490.60 231.87L489.10 232.56L487.60 231.87L487.58 233.28L486.10 234.00L487.58 234.72L487.60 236.13L489.10 235.44L490.60 236.13L490.62 234.72ZM494.80 233.30L493.32 232.58L493.30 231.17L491.80 231.87L490.30 231.17L490.28 232.58L488.80 233.30L490.28 234.02L490.30 235.43L491.80 234.74L493.30 235.43L493.32 234.02ZM497.50 232.20L496.02 231.48L496.00 230.07L494.50 230.76L493.00 230.07L492.98 231.48L491.50 232.20L492.98 232.92L493.00 234.33L494.50 233.63L496.00 234.33L496.02 232.92ZM500.20 231.30L498.72 230.58L498.70 229.17L497.20 229.87L495.70 229.17L495.68 230.58L494.20 231.30L495.68 232.02L495.70 233.43L497.20 232.74L498.70 233.43L498.72 232.02ZM502.90 230.00L501.42 229.28L501.40 227.87L499.90 228.56L498.40 227.87L498.38 229.28L496.90 230.00L498.38 230.72L498.40 232.13L499.90 231.44L501.40 232.13L501.42 230.72ZM505.60 227.80L504.12 227.08L504.10 225.67L502.60 226.37L501.10 225.67L501.08 227.08L499.60 227.80L501.08 228.52L501.10 229.93L502.60 229.24L504.10 229.93L504.12 228.52ZM508.20 226.20L506.72 225.48L506.70 224.07L505.20 224.76L503.70 224.07L503.68 225.48L502.20 226.20L503.68 226.92L503.70 228.33L505.20 227.63L506.70 228.33L506.72 226.92ZM510.80 226.80L509.32 226.08L509.30 224.67L507.80 225.37L506.30 224.67L506.28 226.08L504.80 226.80L506.28 227.52L506.30 228.93L507.80 228.24L509.30 228.93L509.32 227.52ZM513.50 227.80L512.02 227.08L512.00 225.67L510.50 226.37L509.00 225.67L508.98 227.08L507.50 227.80L508.98 228.52L509.00 229.93L510.50 229.24L512.00 229.93L512.02 228.52ZM516.20 228.60L514.72 227.88L514.70 226.47L513.20 227.16L511.70 226.47L511.68 227.88L510.20 228.60L511.68 229.32L511.70 230.73L513.20 230.03L514.70 230.73L514.72 229.32ZM518.90 230.50L517.42 229.78L517.40 228.37L515.90 229.06L514.40 228.37L514.38 229.78L512.90 230.50L514.38 231.22L514.40 232.63L515.90 231.94L517.40 232.63L517.42 231.22ZM521.60 232.80L520.12 232.08L520.10 230.67L518.60 231.37L517.10 230.67L517.08 232.08L515.60 232.80L517.08 233.52L517.10 234.93L518.60 234.24L520.10 234.93L520.12 233.52ZM524.30 234.80L522.82 234.08L522.80 232.67L521.30 233.37L519.80 232.67L519.78 234.08L518.30 234.80L519.78 235.52L519.80 236.93L521.30 236.24L522.80 236.93L522.82 235.52ZM527.00 237.00L525.52 236.28L525.50 234.87L524.00 235.56L522.50 234.87L522.48 236.28L521.00 237.00L522.48 237.72L522.50 239.13L524.00 238.44L525.50 239.13L525.52 237.72ZM529.70 239.30L528.22 238.58L528.20 237.17L526.70 237.87L525.20 237.17L525.18 238.58L523.70 239.30L525.18 240.02L525.20 241.43L526.70 240.74L528.20 241.43L528.22 240.02ZM532.40 239.00L530.92 238.28L530.90 236.87L529.40 237.56L527.90 236.87L527.88 238.28L526.40 239.00L527.88 239.72L527.90 241.13L529.40 240.44L530.90 241.13L530.92 239.72ZM535.20 239.50L533.72 238.78L533.70 237.37L532.20 238.06L530.70 237.37L530.68 238.78L529.20 239.50L530.68 240.22L530.70 241.63L532.20 240.94L533.70 241.63L533.72 240.22ZM538.90 238.10L537.42 237.38L537.40 235.97L535.90 236.66L534.40 235.97L534.38 237.38L532.90 238.10L534.38 238.82L534.40 240.23L535.90 239.53L537.40 240.23L537.42 238.82ZM542.70 239.10L541.22 238.38L541.20 236.97L539.70 237.66L538.20 236.97L538.18 238.38L536.70 239.10L538.18 239.82L538.20 241.23L539.70 240.53L541.20 241.23L541.22 239.82ZM546.40 240.00L544.92 239.28L544.90 237.87L543.40 238.56L541.90 237.87L541.88 239.28L540.40 240.00L541.88 240.72L541.90 242.13L543.40 241.44L544.90 242.13L544.92 240.72ZM550.20 243.80L548.72 243.08L548.70 241.67L547.20 242.37L545.70 241.67L545.68 243.08L544.20 243.80L545.68 244.52L545.70 245.93L547.20 245.24L548.70 245.93L548.72 244.52ZM552.80 244.50L551.32 243.78L551.30 242.37L549.80 243.06L548.30 242.37L548.28 243.78L546.80 244.50L548.28 245.22L548.30 246.63L549.80 245.94L551.30 246.63L551.32 245.22ZM554.90 245.20L553.42 244.48L553.40 243.07L551.90 243.76L550.40 243.07L550.38 244.48L548.90 245.20L550.38 245.92L550.40 247.33L551.90 246.63L553.40 247.33L553.42 245.92ZM555.80 248.90L554.32 248.18L554.30 246.77L552.80 247.47L551.30 246.77L551.28 248.18L549.80 248.90L551.28 249.62L551.30 251.03L552.80 250.34L554.30 251.03L554.32 249.62ZM560.50 250.80L559.02 250.08L559.00 248.67L557.50 249.37L556.00 248.67L555.98 250.08L554.50 250.80L555.98 251.52L556.00 252.93L557.50 252.24L559.00 252.93L559.02 251.52ZM563.30 244.70L561.82 243.98L561.80 242.57L560.30 243.26L558.80 242.57L558.78 243.98L557.30 244.70L558.78 245.42L558.80 246.83L560.30 246.13L561.80 246.83L561.82 245.42ZM565.20 257.40L563.72 256.68L563.70 255.27L562.20 255.96L560.70 255.27L560.68 256.68L559.20 257.40L560.68 258.12L560.70 259.53L562.20 258.83L563.70 259.53L563.72 258.12ZM568.90 250.30L567.42 249.58L567.40 248.17L565.90 248.87L564.40 248.17L564.38 249.58L562.90 250.30L564.38 251.02L564.40 252.43L565.90 251.74L567.40 252.43L567.42 251.02ZM572.30 247.00L570.82 246.28L570.80 244.87L569.30 245.56L567.80 244.87L567.78 246.28L566.30 247.00L567.78 247.72L567.80 249.13L569.30 248.44L570.80 249.13L570.82 247.72ZM575.50 240.50L574.02 239.78L574.00 238.37L572.50 239.06L571.00 238.37L570.98 239.78L569.50 240.50L570.98 241.22L571.00 242.63L572.50 241.94L574.00 242.63L574.02 241.22ZM577.40 237.60L575.92 236.88L575.90 235.47L574.40 236.16L572.90 235.47L572.88 236.88L571.40 237.60L572.88 238.32L572.90 239.73L574.40 239.03L575.90 239.73L575.92 238.32ZM579.40 230.50L577.92 229.78L577.90 228.37L576.40 229.06L574.90 228.37L574.88 229.78L573.40 230.50L574.88 231.22L574.90 232.63L576.40 231.94L577.90 232.63L577.92 231.22ZM582.70 226.30L581.22 225.58L581.20 224.17L579.70 224.87L578.20 224.17L578.18 225.58L576.70 226.30L578.18 227.02L578.20 228.43L579.70 227.74L581.20 228.43L581.22 227.02ZM585.00 220.60L583.52 219.88L583.50 218.47L582.00 219.16L580.50 218.47L580.48 219.88L579.00 220.60L580.48 221.32L580.50 222.73L582.00 222.03L583.50 222.73L583.52 221.32ZM587.80 216.40L586.32 215.68L586.30 214.27L584.80 214.97L583.30 214.27L583.28 215.68L581.80 216.40L583.28 217.12L583.30 218.53L584.80 217.84L586.30 218.53L586.32 217.12ZM590.20 213.60L588.72 212.88L588.70 211.47L587.20 212.16L585.70 211.47L585.68 212.88L584.20 213.60L585.68 214.32L585.70 215.73L587.20 215.03L588.70 215.73L588.72 214.32ZM592.50 209.80L591.02 209.08L591.00 207.67L589.50 208.37L588.00 207.67L587.98 209.08L586.50 209.80L587.98 210.52L588.00 211.93L589.50 211.24L591.00 211.93L591.02 210.52ZM595.30 208.90L593.82 208.18L593.80 206.77L592.30 207.47L590.80 206.77L590.78 208.18L589.30 208.90L590.78 209.62L590.80 211.03L592.30 210.34L593.80 211.03L593.82 209.62ZM598.60 208.00L597.12 207.28L597.10 205.87L595.60 206.56L594.10 205.87L594.08 207.28L592.60 208.00L594.08 208.72L594.10 210.13L595.60 209.44L597.10 210.13L597.12 208.72ZM601.40 213.60L599.92 212.88L599.90 211.47L598.40 212.16L596.90 211.47L596.88 212.88L595.40 213.60L596.88 214.32L596.90 215.73L598.40 215.03L599.90 215.73L599.92 214.32ZM604.30 220.20L602.82 219.48L602.80 218.07L601.30 218.76L599.80 218.07L599.78 219.48L598.30 220.20L599.78 220.92L599.80 222.33L601.30 221.63L602.80 222.33L602.82 220.92ZM607.10 227.20L605.62 226.48L605.60 225.07L604.10 225.76L602.60 225.07L602.58 226.48L601.10 227.20L602.58 227.92L602.60 229.33L604.10 228.63L605.60 229.33L605.62 227.92ZM609.60 236.30L608.12 235.58L608.10 234.17L606.60 234.87L605.10 234.17L605.08 235.58L603.60 236.30L605.08 237.02L605.10 238.43L606.60 237.74L608.10 238.43L608.12 237.02ZM612.80 240.00L611.32 239.28L611.30 237.87L609.80 238.56L608.30 237.87L608.28 239.28L606.80 240.00L608.28 240.72L608.30 242.13L609.80 241.44L611.30 242.13L611.32 240.72ZM616.10 243.00L614.62 242.28L614.60 240.87L613.10 241.56L611.60 240.87L611.58 242.28L610.10 243.00L611.58 243.72L611.60 245.13L613.10 244.44L614.60 245.13L614.62 243.72ZM618.80 245.50L617.32 244.78L617.30 243.37L615.80 244.06L614.30 243.37L614.28 244.78L612.80 245.50L614.28 246.22L614.30 247.63L615.80 246.94L617.30 247.63L617.32 246.22ZM620.80 249.40L619.32 248.68L619.30 247.27L617.80 247.97L616.30 247.27L616.28 248.68L614.80 249.40L616.28 250.12L616.30 251.53L617.80 250.84L619.30 251.53L619.32 250.12ZM622.90 245.50L621.42 244.78L621.40 243.37L619.90 244.06L618.40 243.37L618.38 244.78L616.90 245.50L618.38 246.22L618.40 247.63L619.90 246.94L621.40 247.63L621.42 246.22ZM626.50 238.60L625.02 237.88L625.00 236.47L623.50 237.16L622.00 236.47L621.98 237.88L620.50 238.60L621.98 239.32L622.00 240.73L623.50 240.03L625.00 240.73L625.02 239.32ZM628.10 216.10L626.62 215.38L626.60 213.97L625.10 214.66L623.60 213.97L623.58 215.38L622.10 216.10L623.58 216.82L623.60 218.23L625.10 217.53L626.60 218.23L626.62 216.82ZM631.30 216.10L629.82 215.38L629.80 213.97L628.30 214.66L626.80 213.97L626.78 215.38L625.30 216.10L626.78 216.82L626.80 218.23L628.30 217.53L629.80 218.23L629.82 216.82ZM633.10 220.90L631.62 220.18L631.60 218.77L630.10 219.47L628.60 218.77L628.58 220.18L627.10 220.90L628.58 221.62L628.60 223.03L630.10 222.34L631.60 223.03L631.62 221.62ZM634.10 224.20L632.62 223.48L632.60 222.07L631.10 222.76L629.60 222.07L629.58 223.48L628.10 224.20L629.58 224.92L629.60 226.33L631.10 225.63L632.60 226.33L632.62 224.92Z" fill="#000" stroke="#000" stroke-width="0.5" stroke-linejoin="round"/>
<path d="M52.98 6.90v3.4M52.98 171.90v-3.4M58.47 6.90v3.4M58.47 171.90v-3.4M63.95 6.90v3.4M63.95 171.90v-3.4M69.44 6.90v3.4M69.44 171.90v-3.4M74.92 6.90v7.0M74.92 171.90v-7.0M80.40 6.90v3.4M80.40 171.90v-3.4M85.89 6.90v3.4M85.89 171.90v-3.4M91.37 6.90v3.4M91.37 171.90v-3.4M96.86 6.90v3.4M96.86 171.90v-3.4M102.34 6.90v3.4M102.34 171.90v-3.4M107.82 6.90v3.4M107.82 171.90v-3.4M113.31 6.90v3.4M113.31 171.90v-3.4M118.79 6.90v3.4M118.79 171.90v-3.4M124.28 6.90v3.4M124.28 171.90v-3.4M129.76 6.90v7.0M129.76 171.90v-7.0M135.24 6.90v3.4M135.24 171.90v-3.4M140.73 6.90v3.4M140.73 171.90v-3.4M146.21 6.90v3.4M146.21 171.90v-3.4M151.70 6.90v3.4M151.70 171.90v-3.4M157.18 6.90v3.4M157.18 171.90v-3.4M162.66 6.90v3.4M162.66 171.90v-3.4M168.15 6.90v3.4M168.15 171.90v-3.4M173.63 6.90v3.4M173.63 171.90v-3.4M179.12 6.90v3.4M179.12 171.90v-3.4M184.60 6.90v7.0M184.60 171.90v-7.0M190.08 6.90v3.4M190.08 171.90v-3.4M195.57 6.90v3.4M195.57 171.90v-3.4M201.05 6.90v3.4M201.05 171.90v-3.4M206.54 6.90v3.4M206.54 171.90v-3.4M212.02 6.90v3.4M212.02 171.90v-3.4M217.50 6.90v3.4M217.50 171.90v-3.4M222.99 6.90v3.4M222.99 171.90v-3.4M228.47 6.90v3.4M228.47 171.90v-3.4M233.96 6.90v3.4M233.96 171.90v-3.4M239.44 6.90v7.0M239.44 171.90v-7.0M244.92 6.90v3.4M244.92 171.90v-3.4M250.41 6.90v3.4M250.41 171.90v-3.4M255.89 6.90v3.4M255.89 171.90v-3.4M261.38 6.90v3.4M261.38 171.90v-3.4M266.86 6.90v3.4M266.86 171.90v-3.4M272.34 6.90v3.4M272.34 171.90v-3.4M277.83 6.90v3.4M277.83 171.90v-3.4M283.31 6.90v3.4M283.31 171.90v-3.4M288.80 6.90v3.4M288.80 171.90v-3.4M294.28 6.90v7.0M294.28 171.90v-7.0M299.76 6.90v3.4M299.76 171.90v-3.4M305.25 6.90v3.4M305.25 171.90v-3.4M310.73 6.90v3.4M310.73 171.90v-3.4M316.22 6.90v3.4M316.22 171.90v-3.4M47.50 163.62h3.4M321.70 163.62h-3.4M47.50 158.78h3.4M321.70 158.78h-3.4M47.50 155.34h3.4M321.70 155.34h-3.4M47.50 152.68h3.4M321.70 152.68h-3.4M47.50 150.50h3.4M321.70 150.50h-3.4M47.50 148.66h3.4M321.70 148.66h-3.4M47.50 147.07h3.4M321.70 147.07h-3.4M47.50 145.66h3.4M321.70 145.66h-3.4M47.50 144.40h7.0M321.70 144.40h-7.0M47.50 136.12h3.4M321.70 136.12h-3.4M47.50 131.28h3.4M321.70 131.28h-3.4M47.50 127.84h3.4M321.70 127.84h-3.4M47.50 125.18h3.4M321.70 125.18h-3.4M47.50 123.00h3.4M321.70 123.00h-3.4M47.50 121.16h3.4M321.70 121.16h-3.4M47.50 119.57h3.4M321.70 119.57h-3.4M47.50 118.16h3.4M321.70 118.16h-3.4M47.50 116.90h7.0M321.70 116.90h-7.0M47.50 108.62h3.4M321.70 108.62h-3.4M47.50 103.78h3.4M321.70 103.78h-3.4M47.50 100.34h3.4M321.70 100.34h-3.4M47.50 97.68h3.4M321.70 97.68h-3.4M47.50 95.50h3.4M321.70 95.50h-3.4M47.50 93.66h3.4M321.70 93.66h-3.4M47.50 92.07h3.4M321.70 92.07h-3.4M47.50 90.66h3.4M321.70 90.66h-3.4M47.50 89.40h7.0M321.70 89.40h-7.0M47.50 81.12h3.4M321.70 81.12h-3.4M47.50 76.28h3.4M321.70 76.28h-3.4M47.50 72.84h3.4M321.70 72.84h-3.4M47.50 70.18h3.4M321.70 70.18h-3.4M47.50 68.00h3.4M321.70 68.00h-3.4M47.50 66.16h3.4M321.70 66.16h-3.4M47.50 64.57h3.4M321.70 64.57h-3.4M47.50 63.16h3.4M321.70 63.16h-3.4M47.50 61.90h7.0M321.70 61.90h-7.0M47.50 53.62h3.4M321.70 53.62h-3.4M47.50 48.78h3.4M321.70 48.78h-3.4M47.50 45.34h3.4M321.70 45.34h-3.4M47.50 42.68h3.4M321.70 42.68h-3.4M47.50 40.50h3.4M321.70 40.50h-3.4M47.50 38.66h3.4M321.70 38.66h-3.4M47.50 37.07h3.4M321.70 37.07h-3.4M47.50 35.66h3.4M321.70 35.66h-3.4M47.50 34.40h7.0M321.70 34.40h-7.0M47.50 26.12h3.4M321.70 26.12h-3.4M47.50 21.28h3.4M321.70 21.28h-3.4M47.50 17.84h3.4M321.70 17.84h-3.4M47.50 15.18h3.4M321.70 15.18h-3.4M47.50 13.00h3.4M321.70 13.00h-3.4M47.50 11.16h3.4M321.70 11.16h-3.4M47.50 9.57h3.4M321.70 9.57h-3.4M47.50 8.16h3.4M321.70 8.16h-3.4" stroke="#000" stroke-width="1.9" fill="none"/>
<path d="M46.10 6.90H323.10M46.10 171.90H323.10" stroke="#000" stroke-width="2.1" fill="none"/>
<path d="M47.50 5.85V172.95M321.70 5.85V172.95" stroke="#000" stroke-width="2.8" fill="none"/>
<path d="M52.98 171.90v3.4M52.98 336.90v-3.4M58.47 171.90v3.4M58.47 336.90v-3.4M63.95 171.90v3.4M63.95 336.90v-3.4M69.44 171.90v3.4M69.44 336.90v-3.4M74.92 171.90v7.0M74.92 336.90v-7.0M80.40 171.90v3.4M80.40 336.90v-3.4M85.89 171.90v3.4M85.89 336.90v-3.4M91.37 171.90v3.4M91.37 336.90v-3.4M96.86 171.90v3.4M96.86 336.90v-3.4M102.34 171.90v3.4M102.34 336.90v-3.4M107.82 171.90v3.4M107.82 336.90v-3.4M113.31 171.90v3.4M113.31 336.90v-3.4M118.79 171.90v3.4M118.79 336.90v-3.4M124.28 171.90v3.4M124.28 336.90v-3.4M129.76 171.90v7.0M129.76 336.90v-7.0M135.24 171.90v3.4M135.24 336.90v-3.4M140.73 171.90v3.4M140.73 336.90v-3.4M146.21 171.90v3.4M146.21 336.90v-3.4M151.70 171.90v3.4M151.70 336.90v-3.4M157.18 171.90v3.4M157.18 336.90v-3.4M162.66 171.90v3.4M162.66 336.90v-3.4M168.15 171.90v3.4M168.15 336.90v-3.4M173.63 171.90v3.4M173.63 336.90v-3.4M179.12 171.90v3.4M179.12 336.90v-3.4M184.60 171.90v7.0M184.60 336.90v-7.0M190.08 171.90v3.4M190.08 336.90v-3.4M195.57 171.90v3.4M195.57 336.90v-3.4M201.05 171.90v3.4M201.05 336.90v-3.4M206.54 171.90v3.4M206.54 336.90v-3.4M212.02 171.90v3.4M212.02 336.90v-3.4M217.50 171.90v3.4M217.50 336.90v-3.4M222.99 171.90v3.4M222.99 336.90v-3.4M228.47 171.90v3.4M228.47 336.90v-3.4M233.96 171.90v3.4M233.96 336.90v-3.4M239.44 171.90v7.0M239.44 336.90v-7.0M244.92 171.90v3.4M244.92 336.90v-3.4M250.41 171.90v3.4M250.41 336.90v-3.4M255.89 171.90v3.4M255.89 336.90v-3.4M261.38 171.90v3.4M261.38 336.90v-3.4M266.86 171.90v3.4M266.86 336.90v-3.4M272.34 171.90v3.4M272.34 336.90v-3.4M277.83 171.90v3.4M277.83 336.90v-3.4M283.31 171.90v3.4M283.31 336.90v-3.4M288.80 171.90v3.4M288.80 336.90v-3.4M294.28 171.90v7.0M294.28 336.90v-7.0M299.76 171.90v3.4M299.76 336.90v-3.4M305.25 171.90v3.4M305.25 336.90v-3.4M310.73 171.90v3.4M310.73 336.90v-3.4M316.22 171.90v3.4M316.22 336.90v-3.4M47.50 328.62h3.4M321.70 328.62h-3.4M47.50 323.78h3.4M321.70 323.78h-3.4M47.50 320.34h3.4M321.70 320.34h-3.4M47.50 317.68h3.4M321.70 317.68h-3.4M47.50 315.50h3.4M321.70 315.50h-3.4M47.50 313.66h3.4M321.70 313.66h-3.4M47.50 312.07h3.4M321.70 312.07h-3.4M47.50 310.66h3.4M321.70 310.66h-3.4M47.50 309.40h7.0M321.70 309.40h-7.0M47.50 301.12h3.4M321.70 301.12h-3.4M47.50 296.28h3.4M321.70 296.28h-3.4M47.50 292.84h3.4M321.70 292.84h-3.4M47.50 290.18h3.4M321.70 290.18h-3.4M47.50 288.00h3.4M321.70 288.00h-3.4M47.50 286.16h3.4M321.70 286.16h-3.4M47.50 284.57h3.4M321.70 284.57h-3.4M47.50 283.16h3.4M321.70 283.16h-3.4M47.50 281.90h7.0M321.70 281.90h-7.0M47.50 273.62h3.4M321.70 273.62h-3.4M47.50 268.78h3.4M321.70 268.78h-3.4M47.50 265.34h3.4M321.70 265.34h-3.4M47.50 262.68h3.4M321.70 262.68h-3.4M47.50 260.50h3.4M321.70 260.50h-3.4M47.50 258.66h3.4M321.70 258.66h-3.4M47.50 257.07h3.4M321.70 257.07h-3.4M47.50 255.66h3.4M321.70 255.66h-3.4M47.50 254.40h7.0M321.70 254.40h-7.0M47.50 246.12h3.4M321.70 246.12h-3.4M47.50 241.28h3.4M321.70 241.28h-3.4M47.50 237.84h3.4M321.70 237.84h-3.4M47.50 235.18h3.4M321.70 235.18h-3.4M47.50 233.00h3.4M321.70 233.00h-3.4M47.50 231.16h3.4M321.70 231.16h-3.4M47.50 229.57h3.4M321.70 229.57h-3.4M47.50 228.16h3.4M321.70 228.16h-3.4M47.50 226.90h7.0M321.70 226.90h-7.0M47.50 218.62h3.4M321.70 218.62h-3.4M47.50 213.78h3.4M321.70 213.78h-3.4M47.50 210.34h3.4M321.70 210.34h-3.4M47.50 207.68h3.4M321.70 207.68h-3.4M47.50 205.50h3.4M321.70 205.50h-3.4M47.50 203.66h3.4M321.70 203.66h-3.4M47.50 202.07h3.4M321.70 202.07h-3.4M47.50 200.66h3.4M321.70 200.66h-3.4M47.50 199.40h7.0M321.70 199.40h-7.0M47.50 191.12h3.4M321.70 191.12h-3.4M47.50 186.28h3.4M321.70 186.28h-3.4M47.50 182.84h3.4M321.70 182.84h-3.4M47.50 180.18h3.4M321.70 180.18h-3.4M47.50 178.00h3.4M321.70 178.00h-3.4M47.50 176.16h3.4M321.70 176.16h-3.4M47.50 174.57h3.4M321.70 174.57h-3.4M47.50 173.16h3.4M321.70 173.16h-3.4" stroke="#000" stroke-width="1.9" fill="none"/>
<path d="M46.10 171.90H323.10M46.10 336.90H323.10" stroke="#000" stroke-width="2.1" fill="none"/>
<path d="M47.50 170.85V337.95M321.70 170.85V337.95" stroke="#000" stroke-width="2.8" fill="none"/>
<path d="M368.28 6.90v3.4M368.28 171.90v-3.4M373.77 6.90v3.4M373.77 171.90v-3.4M379.25 6.90v3.4M379.25 171.90v-3.4M384.74 6.90v3.4M384.74 171.90v-3.4M390.22 6.90v7.0M390.22 171.90v-7.0M395.70 6.90v3.4M395.70 171.90v-3.4M401.19 6.90v3.4M401.19 171.90v-3.4M406.67 6.90v3.4M406.67 171.90v-3.4M412.16 6.90v3.4M412.16 171.90v-3.4M417.64 6.90v3.4M417.64 171.90v-3.4M423.12 6.90v3.4M423.12 171.90v-3.4M428.61 6.90v3.4M428.61 171.90v-3.4M434.09 6.90v3.4M434.09 171.90v-3.4M439.58 6.90v3.4M439.58 171.90v-3.4M445.06 6.90v7.0M445.06 171.90v-7.0M450.54 6.90v3.4M450.54 171.90v-3.4M456.03 6.90v3.4M456.03 171.90v-3.4M461.51 6.90v3.4M461.51 171.90v-3.4M467.00 6.90v3.4M467.00 171.90v-3.4M472.48 6.90v3.4M472.48 171.90v-3.4M477.96 6.90v3.4M477.96 171.90v-3.4M483.45 6.90v3.4M483.45 171.90v-3.4M488.93 6.90v3.4M488.93 171.90v-3.4M494.42 6.90v3.4M494.42 171.90v-3.4M499.90 6.90v7.0M499.90 171.90v-7.0M505.38 6.90v3.4M505.38 171.90v-3.4M510.87 6.90v3.4M510.87 171.90v-3.4M516.35 6.90v3.4M516.35 171.90v-3.4M521.84 6.90v3.4M521.84 171.90v-3.4M527.32 6.90v3.4M527.32 171.90v-3.4M532.80 6.90v3.4M532.80 171.90v-3.4M538.29 6.90v3.4M538.29 171.90v-3.4M543.77 6.90v3.4M543.77 171.90v-3.4M549.26 6.90v3.4M549.26 171.90v-3.4M554.74 6.90v7.0M554.74 171.90v-7.0M560.22 6.90v3.4M560.22 171.90v-3.4M565.71 6.90v3.4M565.71 171.90v-3.4M571.19 6.90v3.4M571.19 171.90v-3.4M576.68 6.90v3.4M576.68 171.90v-3.4M582.16 6.90v3.4M582.16 171.90v-3.4M587.64 6.90v3.4M587.64 171.90v-3.4M593.13 6.90v3.4M593.13 171.90v-3.4M598.61 6.90v3.4M598.61 171.90v-3.4M604.10 6.90v3.4M604.10 171.90v-3.4M609.58 6.90v7.0M609.58 171.90v-7.0M615.06 6.90v3.4M615.06 171.90v-3.4M620.55 6.90v3.4M620.55 171.90v-3.4M626.03 6.90v3.4M626.03 171.90v-3.4M631.52 6.90v3.4M631.52 171.90v-3.4M362.80 163.62h3.4M637.00 163.62h-3.4M362.80 158.78h3.4M637.00 158.78h-3.4M362.80 155.34h3.4M637.00 155.34h-3.4M362.80 152.68h3.4M637.00 152.68h-3.4M362.80 150.50h3.4M637.00 150.50h-3.4M362.80 148.66h3.4M637.00 148.66h-3.4M362.80 147.07h3.4M637.00 147.07h-3.4M362.80 145.66h3.4M637.00 145.66h-3.4M362.80 144.40h7.0M637.00 144.40h-7.0M362.80 136.12h3.4M637.00 136.12h-3.4M362.80 131.28h3.4M637.00 131.28h-3.4M362.80 127.84h3.4M637.00 127.84h-3.4M362.80 125.18h3.4M637.00 125.18h-3.4M362.80 123.00h3.4M637.00 123.00h-3.4M362.80 121.16h3.4M637.00 121.16h-3.4M362.80 119.57h3.4M637.00 119.57h-3.4M362.80 118.16h3.4M637.00 118.16h-3.4M362.80 116.90h7.0M637.00 116.90h-7.0M362.80 108.62h3.4M637.00 108.62h-3.4M362.80 103.78h3.4M637.00 103.78h-3.4M362.80 100.34h3.4M637.00 100.34h-3.4M362.80 97.68h3.4M637.00 97.68h-3.4M362.80 95.50h3.4M637.00 95.50h-3.4M362.80 93.66h3.4M637.00 93.66h-3.4M362.80 92.07h3.4M637.00 92.07h-3.4M362.80 90.66h3.4M637.00 90.66h-3.4M362.80 89.40h7.0M637.00 89.40h-7.0M362.80 81.12h3.4M637.00 81.12h-3.4M362.80 76.28h3.4M637.00 76.28h-3.4M362.80 72.84h3.4M637.00 72.84h-3.4M362.80 70.18h3.4M637.00 70.18h-3.4M362.80 68.00h3.4M637.00 68.00h-3.4M362.80 66.16h3.4M637.00 66.16h-3.4M362.80 64.57h3.4M637.00 64.57h-3.4M362.80 63.16h3.4M637.00 63.16h-3.4M362.80 61.90h7.0M637.00 61.90h-7.0M362.80 53.62h3.4M637.00 53.62h-3.4M362.80 48.78h3.4M637.00 48.78h-3.4M362.80 45.34h3.4M637.00 45.34h-3.4M362.80 42.68h3.4M637.00 42.68h-3.4M362.80 40.50h3.4M637.00 40.50h-3.4M362.80 38.66h3.4M637.00 38.66h-3.4M362.80 37.07h3.4M637.00 37.07h-3.4M362.80 35.66h3.4M637.00 35.66h-3.4M362.80 34.40h7.0M637.00 34.40h-7.0M362.80 26.12h3.4M637.00 26.12h-3.4M362.80 21.28h3.4M637.00 21.28h-3.4M362.80 17.84h3.4M637.00 17.84h-3.4M362.80 15.18h3.4M637.00 15.18h-3.4M362.80 13.00h3.4M637.00 13.00h-3.4M362.80 11.16h3.4M637.00 11.16h-3.4M362.80 9.57h3.4M637.00 9.57h-3.4M362.80 8.16h3.4M637.00 8.16h-3.4" stroke="#000" stroke-width="1.9" fill="none"/>
<path d="M361.40 6.90H638.40M361.40 171.90H638.40" stroke="#000" stroke-width="2.1" fill="none"/>
<path d="M362.80 5.85V172.95M637.00 5.85V172.95" stroke="#000" stroke-width="2.8" fill="none"/>
<path d="M368.28 171.90v3.4M368.28 336.90v-3.4M373.77 171.90v3.4M373.77 336.90v-3.4M379.25 171.90v3.4M379.25 336.90v-3.4M384.74 171.90v3.4M384.74 336.90v-3.4M390.22 171.90v7.0M390.22 336.90v-7.0M395.70 171.90v3.4M395.70 336.90v-3.4M401.19 171.90v3.4M401.19 336.90v-3.4M406.67 171.90v3.4M406.67 336.90v-3.4M412.16 171.90v3.4M412.16 336.90v-3.4M417.64 171.90v3.4M417.64 336.90v-3.4M423.12 171.90v3.4M423.12 336.90v-3.4M428.61 171.90v3.4M428.61 336.90v-3.4M434.09 171.90v3.4M434.09 336.90v-3.4M439.58 171.90v3.4M439.58 336.90v-3.4M445.06 171.90v7.0M445.06 336.90v-7.0M450.54 171.90v3.4M450.54 336.90v-3.4M456.03 171.90v3.4M456.03 336.90v-3.4M461.51 171.90v3.4M461.51 336.90v-3.4M467.00 171.90v3.4M467.00 336.90v-3.4M472.48 171.90v3.4M472.48 336.90v-3.4M477.96 171.90v3.4M477.96 336.90v-3.4M483.45 171.90v3.4M483.45 336.90v-3.4M488.93 171.90v3.4M488.93 336.90v-3.4M494.42 171.90v3.4M494.42 336.90v-3.4M499.90 171.90v7.0M499.90 336.90v-7.0M505.38 171.90v3.4M505.38 336.90v-3.4M510.87 171.90v3.4M510.87 336.90v-3.4M516.35 171.90v3.4M516.35 336.90v-3.4M521.84 171.90v3.4M521.84 336.90v-3.4M527.32 171.90v3.4M527.32 336.90v-3.4M532.80 171.90v3.4M532.80 336.90v-3.4M538.29 171.90v3.4M538.29 336.90v-3.4M543.77 171.90v3.4M543.77 336.90v-3.4M549.26 171.90v3.4M549.26 336.90v-3.4M554.74 171.90v7.0M554.74 336.90v-7.0M560.22 171.90v3.4M560.22 336.90v-3.4M565.71 171.90v3.4M565.71 336.90v-3.4M571.19 171.90v3.4M571.19 336.90v-3.4M576.68 171.90v3.4M576.68 336.90v-3.4M582.16 171.90v3.4M582.16 336.90v-3.4M587.64 171.90v3.4M587.64 336.90v-3.4M593.13 171.90v3.4M593.13 336.90v-3.4M598.61 171.90v3.4M598.61 336.90v-3.4M604.10 171.90v3.4M604.10 336.90v-3.4M609.58 171.90v7.0M609.58 336.90v-7.0M615.06 171.90v3.4M615.06 336.90v-3.4M620.55 171.90v3.4M620.55 336.90v-3.4M626.03 171.90v3.4M626.03 336.90v-3.4M631.52 171.90v3.4M631.52 336.90v-3.4M362.80 328.62h3.4M637.00 328.62h-3.4M362.80 323.78h3.4M637.00 323.78h-3.4M362.80 320.34h3.4M637.00 320.34h-3.4M362.80 317.68h3.4M637.00 317.68h-3.4M362.80 315.50h3.4M637.00 315.50h-3.4M362.80 313.66h3.4M637.00 313.66h-3.4M362.80 312.07h3.4M637.00 312.07h-3.4M362.80 310.66h3.4M637.00 310.66h-3.4M362.80 309.40h7.0M637.00 309.40h-7.0M362.80 301.12h3.4M637.00 301.12h-3.4M362.80 296.28h3.4M637.00 296.28h-3.4M362.80 292.84h3.4M637.00 292.84h-3.4M362.80 290.18h3.4M637.00 290.18h-3.4M362.80 288.00h3.4M637.00 288.00h-3.4M362.80 286.16h3.4M637.00 286.16h-3.4M362.80 284.57h3.4M637.00 284.57h-3.4M362.80 283.16h3.4M637.00 283.16h-3.4M362.80 281.90h7.0M637.00 281.90h-7.0M362.80 273.62h3.4M637.00 273.62h-3.4M362.80 268.78h3.4M637.00 268.78h-3.4M362.80 265.34h3.4M637.00 265.34h-3.4M362.80 262.68h3.4M637.00 262.68h-3.4M362.80 260.50h3.4M637.00 260.50h-3.4M362.80 258.66h3.4M637.00 258.66h-3.4M362.80 257.07h3.4M637.00 257.07h-3.4M362.80 255.66h3.4M637.00 255.66h-3.4M362.80 254.40h7.0M637.00 254.40h-7.0M362.80 246.12h3.4M637.00 246.12h-3.4M362.80 241.28h3.4M637.00 241.28h-3.4M362.80 237.84h3.4M637.00 237.84h-3.4M362.80 235.18h3.4M637.00 235.18h-3.4M362.80 233.00h3.4M637.00 233.00h-3.4M362.80 231.16h3.4M637.00 231.16h-3.4M362.80 229.57h3.4M637.00 229.57h-3.4M362.80 228.16h3.4M637.00 228.16h-3.4M362.80 226.90h7.0M637.00 226.90h-7.0M362.80 218.62h3.4M637.00 218.62h-3.4M362.80 213.78h3.4M637.00 213.78h-3.4M362.80 210.34h3.4M637.00 210.34h-3.4M362.80 207.68h3.4M637.00 207.68h-3.4M362.80 205.50h3.4M637.00 205.50h-3.4M362.80 203.66h3.4M637.00 203.66h-3.4M362.80 202.07h3.4M637.00 202.07h-3.4M362.80 200.66h3.4M637.00 200.66h-3.4M362.80 199.40h7.0M637.00 199.40h-7.0M362.80 191.12h3.4M637.00 191.12h-3.4M362.80 186.28h3.4M637.00 186.28h-3.4M362.80 182.84h3.4M637.00 182.84h-3.4M362.80 180.18h3.4M637.00 180.18h-3.4M362.80 178.00h3.4M637.00 178.00h-3.4M362.80 176.16h3.4M637.00 176.16h-3.4M362.80 174.57h3.4M637.00 174.57h-3.4M362.80 173.16h3.4M637.00 173.16h-3.4" stroke="#000" stroke-width="1.9" fill="none"/>
<path d="M361.40 171.90H638.40M361.40 336.90H638.40" stroke="#000" stroke-width="2.1" fill="none"/>
<path d="M362.80 170.85V337.95M637.00 170.85V337.95" stroke="#000" stroke-width="2.8" fill="none"/>
<text x="40.2" y="11.5" text-anchor="end" class="tl">10<tspan dy="-3.8" class="sup">1</tspan></text>
<text x="40.2" y="66.5" text-anchor="end" class="tl">10<tspan dy="-3.8" class="sup">-1</tspan></text>
<text x="40.2" y="121.5" text-anchor="end" class="tl">10<tspan dy="-3.8" class="sup">-3</tspan></text>
<text x="40.2" y="176.5" text-anchor="end" class="tl">10<tspan dy="-3.8" class="sup">-5</tspan></text>
<text x="356.0" y="11.5" text-anchor="end" class="tl">10<tspan dy="-3.8" class="sup">1</tspan></text>
<text x="356.0" y="66.5" text-anchor="end" class="tl">10<tspan dy="-3.8" class="sup">-1</tspan></text>
<text x="356.0" y="121.5" text-anchor="end" class="tl">10<tspan dy="-3.8" class="sup">-3</tspan></text>
<text x="356.0" y="176.5" text-anchor="end" class="tl">10<tspan dy="-3.8" class="sup">-5</tspan></text>
<text x="40.2" y="231.5" text-anchor="end" class="tl">10<tspan dy="-3.8" class="sup">-1</tspan></text>
<text x="40.2" y="286.5" text-anchor="end" class="tl">10<tspan dy="-3.8" class="sup">-3</tspan></text>
<text x="40.2" y="341.5" text-anchor="end" class="tl">10<tspan dy="-3.8" class="sup">-5</tspan></text>
<text x="356.0" y="231.5" text-anchor="end" class="tl">10<tspan dy="-3.8" class="sup">-1</tspan></text>
<text x="356.0" y="286.5" text-anchor="end" class="tl">10<tspan dy="-3.8" class="sup">-3</tspan></text>
<text x="356.0" y="341.5" text-anchor="end" class="tl">10<tspan dy="-3.8" class="sup">-5</tspan></text>
<text x="74.9" y="354.9" text-anchor="middle" class="tl" style="font-size:13.5px">120</text>
<text x="129.8" y="354.9" text-anchor="middle" class="tl" style="font-size:13.5px">140</text>
<text x="184.6" y="354.9" text-anchor="middle" class="tl" style="font-size:13.5px">160</text>
<text x="239.4" y="354.9" text-anchor="middle" class="tl" style="font-size:13.5px">180</text>
<text x="294.3" y="354.9" text-anchor="middle" class="tl" style="font-size:13.5px">200</text>
<text x="390.2" y="354.9" text-anchor="middle" class="tl" style="font-size:13.5px">120</text>
<text x="445.1" y="354.9" text-anchor="middle" class="tl" style="font-size:13.5px">140</text>
<text x="499.9" y="354.9" text-anchor="middle" class="tl" style="font-size:13.5px">160</text>
<text x="554.7" y="354.9" text-anchor="middle" class="tl" style="font-size:13.5px">180</text>
<text x="609.6" y="354.9" text-anchor="middle" class="tl" style="font-size:13.5px">200</text>
<text x="184.6" y="371.5" text-anchor="middle" class="tl" style="font-size:13.5px">Mass number A</text>
<text x="500" y="371.5" text-anchor="middle" class="tl" style="font-size:13.5px">Mass number A</text>
<text transform="translate(9.6,167.7) rotate(-90)" text-anchor="middle" class="tl" style="font-size:13.4px">Solar r-process abundance</text>
<text x="298.7" y="32.5" text-anchor="middle" class="pl" style="font-size:13.6px">(a)</text>
<text x="298.6" y="196.7" text-anchor="middle" class="pl" style="font-size:13.6px">(b)</text>
<text x="613.9" y="32.3" text-anchor="middle" class="pl" style="font-size:13.6px">(c)</text>
<text x="617.6" y="196.3" text-anchor="middle" class="pl" style="font-size:13.6px">(d)</text>
<rect x="82.2" y="144.0" width="32.3" height="24.2" fill="#000"/>
<rect x="78.4" y="140.2" width="32.3" height="24.2" fill="#fff" stroke="#bbb" stroke-width="0.8"/>
<text x="79.6" y="148.8" class="bx">Y<tspan dy="2" style="font-size:5.5px">e</tspan><tspan dy="-2">=</tspan>0.1</text>
<text x="79.6" y="160.6" class="bx">t=0.25 s</text>
<rect x="83.8" y="307.8" width="28.0" height="22.6" fill="#000"/>
<rect x="80.0" y="304.0" width="28.0" height="22.6" fill="#fff" stroke="#bbb" stroke-width="0.8"/>
<text x="81.2" y="312.6" class="bx">Y<tspan dy="2" style="font-size:5.5px">e</tspan><tspan dy="-2">=</tspan>0.1</text>
<text x="81.2" y="324.4" class="bx">t=0.5 s</text>
<rect x="398.5" y="142.8" width="32.3" height="23.8" fill="#000"/>
<rect x="394.7" y="139.0" width="32.3" height="23.8" fill="#fff" stroke="#bbb" stroke-width="0.8"/>
<text x="395.9" y="147.6" class="bx">Y<tspan dy="2" style="font-size:5.5px">e</tspan><tspan dy="-2">=</tspan>0.3</text>
<text x="395.9" y="159.4" class="bx">t=0.25 s</text>
<rect x="399.2" y="307.2" width="28.3" height="23.9" fill="#000"/>
<rect x="395.4" y="303.4" width="28.3" height="23.9" fill="#fff" stroke="#bbb" stroke-width="0.8"/>
<text x="396.6" y="312.0" class="bx">Y<tspan dy="2" style="font-size:5.5px">e</tspan><tspan dy="-2">=</tspan>0.3</text>
<text x="396.6" y="323.8" class="bx">t=0.5 s</text>
<circle cx="460" cy="283.40000000000003" r="1.9" fill="#000"/>
<path d="M450.8 293.5H469.5" stroke="#1a8c1a" stroke-width="1.3" stroke-dasharray="6.2 5.8" fill="none"/>
<path d="M450.8 303.3H469.5" stroke="#ff0000" stroke-width="1.7" fill="none"/>
<path d="M450.8 313.5H469.5" stroke="#b050ff" stroke-width="1.3" stroke-dasharray="4.6 1.6 1 1.6" fill="none"/>
<path d="M529.8 283.6H549.0" stroke="#0000ff" stroke-width="1.8" stroke-dasharray="7.2 2.2 1.9 2.8" fill="none"/>
<path d="M529.8 293.5H549.0" stroke="#7b4f1e" stroke-width="1.6" stroke-dasharray="5.7 2.9 1.8 2.9 1.7 2.9" fill="none"/>
<path d="M529.8 303.3H549.0" stroke="#ff8000" stroke-width="1.5" stroke-dasharray="3.2 2.15" fill="none"/>
<path d="M529.8 313.5H549.0" stroke="#3a3aff" stroke-width="1.4" stroke-dasharray="1.2 1.1" fill="none"/>
<text x="471.6" y="286.3" class="lg">Solar r-process</text>
<text x="551.0" y="286.3" class="lg">RHB+QRPA</text>
<text x="471.6" y="296.2" class="lg">Formula Zhou</text>
<text x="551.0" y="296.2" class="lg">SHFB+QRPA</text>
<text x="471.6" y="306.0" class="lg">RHB+GT</text>
<text x="551.0" y="306.0" class="lg">SHFB+FAM</text>
<text x="471.6" y="316.2" class="lg">FRDM+QRPA</text>
<text x="551.0" y="316.2" class="lg">WS4+NN</text>
</svg></body></html>
